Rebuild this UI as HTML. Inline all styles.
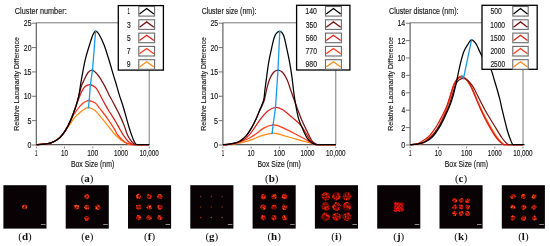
<!DOCTYPE html>
<html><head><meta charset="utf-8"><title>Lacunarity figure</title>
<style>html,body{margin:0;padding:0;background:#fff;width:550px;height:246px;overflow:hidden}svg{display:block}</style>
</head><body><svg width="550" height="246" viewBox="0 0 550 246"><path d="M36.30,22.80 H118.30 M149.20,70.10 V144.60" stroke="#777" stroke-width="1" fill="none"/><path d="M36.30,22.80 V144.60 H149.20" stroke="#555" stroke-width="1.1" fill="none"/><path d="M95.60,31.08 L92.50,70.11 L90.40,84.58 L89.20,100.56 L88.50,107.52" stroke="#1a9be6" stroke-width="1.3" fill="none"/><path d="M36.30,144.60 C37.47,144.54 40.97,144.46 43.30,144.21 C45.63,143.96 47.93,143.86 50.30,143.09 C52.67,142.32 55.43,141.03 57.50,139.58 C59.57,138.14 60.83,136.67 62.70,134.42 C64.57,132.17 66.80,128.81 68.70,126.09 C70.60,123.36 72.67,119.92 74.10,118.05 C75.53,116.18 76.22,115.90 77.30,114.88 C78.38,113.87 79.43,112.89 80.60,111.96 C81.77,111.02 82.98,110.02 84.30,109.28 C85.62,108.54 86.72,107.34 88.50,107.52 C90.28,107.71 92.83,108.69 95.00,110.40 C97.17,112.11 99.33,115.22 101.50,117.80 C103.67,120.39 105.83,123.20 108.00,125.89 C110.17,128.59 112.28,131.59 114.50,133.98 C116.72,136.37 119.00,138.53 121.30,140.22 C123.60,141.90 126.47,143.38 128.30,144.11 C130.13,144.84 128.82,144.52 132.30,144.60 C135.78,144.68 146.38,144.60 149.20,144.60" stroke="#ff8a14" stroke-width="1.25" fill="none" stroke-linejoin="round"/><path d="M36.30,144.60 C37.47,144.54 40.97,144.46 43.30,144.21 C45.63,143.96 47.93,143.86 50.30,143.09 C52.67,142.32 55.43,141.03 57.50,139.58 C59.57,138.14 60.97,136.67 62.70,134.42 C64.43,132.17 66.17,129.20 67.90,126.09 C69.63,122.97 71.70,118.23 73.10,115.71 C74.50,113.19 75.18,112.54 76.30,110.98 C77.42,109.42 78.63,107.69 79.80,106.35 C80.97,105.02 82.22,103.80 83.30,102.94 C84.38,102.09 85.32,101.64 86.30,101.24 C87.28,100.84 87.70,100.26 89.20,100.56 C90.70,100.86 93.67,101.87 95.30,103.04 C96.93,104.21 97.97,106.33 99.00,107.57 C100.03,108.82 100.00,108.53 101.50,110.50 C103.00,112.46 105.83,116.26 108.00,119.36 C110.17,122.46 112.87,126.50 114.50,129.11 C116.13,131.71 116.17,132.91 117.80,135.00 C119.43,137.10 122.22,140.12 124.30,141.68 C126.38,143.24 128.80,143.87 130.30,144.36 C131.80,144.84 130.15,144.56 133.30,144.60 C136.45,144.64 146.55,144.60 149.20,144.60" stroke="#ff3d1a" stroke-width="1.25" fill="none" stroke-linejoin="round"/><path d="M36.30,144.60 C37.47,144.54 40.97,144.46 43.30,144.21 C45.63,143.96 47.93,143.86 50.30,143.09 C52.67,142.32 55.43,141.03 57.50,139.58 C59.57,138.14 60.97,136.67 62.70,134.42 C64.43,132.17 66.27,129.20 67.90,126.09 C69.53,122.97 70.88,119.77 72.50,115.71 C74.12,111.65 76.35,105.11 77.60,101.73 C78.85,98.34 79.05,97.59 80.00,95.39 C80.95,93.20 82.17,90.24 83.30,88.57 C84.43,86.91 85.62,86.07 86.80,85.41 C87.98,84.74 88.98,84.26 90.40,84.58 C91.82,84.89 93.98,86.15 95.30,87.31 C96.62,88.46 97.30,89.82 98.30,91.50 C99.30,93.17 100.22,95.27 101.30,97.34 C102.38,99.41 103.55,101.69 104.80,103.92 C106.05,106.15 107.42,108.51 108.80,110.74 C110.18,112.97 111.77,115.17 113.10,117.32 C114.43,119.47 115.60,121.54 116.80,123.65 C118.00,125.76 119.13,127.95 120.30,129.98 C121.47,132.01 122.50,133.96 123.80,135.83 C125.10,137.70 126.72,139.81 128.10,141.19 C129.48,142.57 130.98,143.54 132.10,144.11 C133.22,144.68 131.95,144.52 134.80,144.60 C137.65,144.68 146.80,144.60 149.20,144.60" stroke="#d9201a" stroke-width="1.25" fill="none" stroke-linejoin="round"/><path d="M36.30,144.60 C37.47,144.54 40.97,144.46 43.30,144.21 C45.63,143.96 47.93,143.86 50.30,143.09 C52.67,142.32 55.43,141.03 57.50,139.58 C59.57,138.14 60.97,136.67 62.70,134.42 C64.43,132.17 66.27,129.20 67.90,126.09 C69.53,122.97 70.88,119.93 72.50,115.71 C74.12,111.49 76.17,105.52 77.60,100.75 C79.03,95.99 80.00,90.60 81.10,87.11 C82.20,83.62 83.03,82.24 84.20,79.80 C85.37,77.37 86.72,74.11 88.10,72.49 C89.48,70.88 90.87,69.69 92.50,70.11 C94.13,70.52 96.42,73.28 97.90,74.98 C99.38,76.68 100.25,78.43 101.40,80.29 C102.55,82.15 103.57,83.78 104.80,86.14 C106.03,88.49 107.47,91.82 108.80,94.42 C110.13,97.02 111.47,99.21 112.80,101.73 C114.13,104.24 115.63,107.25 116.80,109.52 C117.97,111.80 118.55,112.64 119.80,115.37 C121.05,118.10 123.02,122.62 124.30,125.89 C125.58,129.16 126.33,132.45 127.50,135.00 C128.67,137.55 130.17,139.67 131.30,141.19 C132.43,142.71 133.47,143.54 134.30,144.11 C135.13,144.68 133.82,144.52 136.30,144.60 C138.78,144.68 147.05,144.60 149.20,144.60" stroke="#7a1515" stroke-width="1.25" fill="none" stroke-linejoin="round"/><path d="M36.30,144.60 C37.47,144.54 40.97,144.46 43.30,144.21 C45.63,143.96 47.93,143.86 50.30,143.09 C52.67,142.32 55.43,141.03 57.50,139.58 C59.57,138.14 60.97,136.67 62.70,134.42 C64.43,132.17 66.27,129.20 67.90,126.09 C69.53,122.97 71.12,119.16 72.50,115.71 C73.88,112.26 75.13,108.83 76.20,105.38 C77.27,101.93 78.05,99.18 78.90,95.00 C79.75,90.82 80.25,86.15 81.30,80.29 C82.35,74.43 83.82,65.75 85.20,59.83 C86.58,53.90 88.33,48.87 89.60,44.72 C90.87,40.58 91.80,37.25 92.80,34.98 C93.80,32.71 94.60,31.24 95.60,31.08 C96.60,30.92 97.38,31.69 98.80,34.01 C100.22,36.32 102.40,40.63 104.10,44.97 C105.80,49.30 107.38,54.78 109.00,60.02 C110.62,65.26 112.50,72.04 113.80,76.39 C115.10,80.74 115.88,83.05 116.80,86.14 C117.72,89.22 118.33,91.80 119.30,94.91 C120.27,98.02 121.50,101.26 122.60,104.80 C123.70,108.34 124.82,112.36 125.90,116.15 C126.98,119.93 128.15,124.36 129.10,127.50 C130.05,130.64 130.82,132.80 131.60,135.00 C132.38,137.20 133.07,139.18 133.80,140.70 C134.53,142.22 135.25,143.46 136.00,144.11 C136.75,144.76 136.10,144.52 138.30,144.60 C140.50,144.68 147.38,144.60 149.20,144.60" stroke="#000000" stroke-width="1.25" fill="none" stroke-linejoin="round"/><circle cx="95.60" cy="31.08" r="0.95" fill="#1a9be6"/><circle cx="92.50" cy="70.11" r="0.95" fill="#1a9be6"/><circle cx="90.40" cy="84.58" r="0.95" fill="#1a9be6"/><circle cx="89.20" cy="100.56" r="0.95" fill="#1a9be6"/><circle cx="88.50" cy="107.52" r="0.95" fill="#1a9be6"/><path d="M32.00,145.00 H36.30" stroke="#666" stroke-width="0.9"/><text x="27.52" y="148.00" font-size="8.20" font-family="'Liberation Sans', 'DejaVu Sans', sans-serif" fill="#141414" textLength="3.96" lengthAdjust="spacingAndGlyphs" stroke="#141414" stroke-width="0.14">0</text><path d="M32.00,120.64 H36.30" stroke="#666" stroke-width="0.9"/><text x="27.51" y="123.64" font-size="8.20" font-family="'Liberation Sans', 'DejaVu Sans', sans-serif" fill="#141414" textLength="3.99" lengthAdjust="spacingAndGlyphs" stroke="#141414" stroke-width="0.14">5</text><path d="M32.00,96.28 H36.30" stroke="#666" stroke-width="0.9"/><text x="23.67" y="99.28" font-size="8.20" font-family="'Liberation Sans', 'DejaVu Sans', sans-serif" fill="#141414" textLength="7.81" lengthAdjust="spacingAndGlyphs" stroke="#141414" stroke-width="0.14">10</text><path d="M32.00,71.92 H36.30" stroke="#666" stroke-width="0.9"/><text x="23.66" y="74.92" font-size="8.20" font-family="'Liberation Sans', 'DejaVu Sans', sans-serif" fill="#141414" textLength="7.83" lengthAdjust="spacingAndGlyphs" stroke="#141414" stroke-width="0.14">15</text><path d="M32.00,47.56 H36.30" stroke="#666" stroke-width="0.9"/><text x="23.86" y="50.56" font-size="8.20" font-family="'Liberation Sans', 'DejaVu Sans', sans-serif" fill="#141414" textLength="7.61" lengthAdjust="spacingAndGlyphs" stroke="#141414" stroke-width="0.14">20</text><path d="M32.00,23.20 H36.30" stroke="#666" stroke-width="0.9"/><text x="23.86" y="26.20" font-size="8.20" font-family="'Liberation Sans', 'DejaVu Sans', sans-serif" fill="#141414" textLength="7.63" lengthAdjust="spacingAndGlyphs" stroke="#141414" stroke-width="0.14">25</text><path d="M36.30,146.60 V148.40" stroke="#777" stroke-width="0.9"/><text x="35.11" y="156.30" font-size="8.30" font-family="'Liberation Sans', 'DejaVu Sans', sans-serif" fill="#141414" textLength="2.45" lengthAdjust="spacingAndGlyphs" stroke="#141414" stroke-width="0.14">1</text><path d="M64.53,146.60 V148.40" stroke="#777" stroke-width="0.9"/><text x="60.99" y="156.30" font-size="8.30" font-family="'Liberation Sans', 'DejaVu Sans', sans-serif" fill="#141414" textLength="7.03" lengthAdjust="spacingAndGlyphs" stroke="#141414" stroke-width="0.14">10</text><path d="M92.75,146.60 V148.40" stroke="#777" stroke-width="0.9"/><text x="87.14" y="156.30" font-size="8.30" font-family="'Liberation Sans', 'DejaVu Sans', sans-serif" fill="#141414" textLength="11.17" lengthAdjust="spacingAndGlyphs" stroke="#141414" stroke-width="0.14">100</text><path d="M120.98,146.60 V148.40" stroke="#777" stroke-width="0.9"/><text x="114.00" y="156.30" font-size="8.30" font-family="'Liberation Sans', 'DejaVu Sans', sans-serif" fill="#141414" textLength="13.92" lengthAdjust="spacingAndGlyphs" stroke="#141414" stroke-width="0.14">1000</text><path d="M149.20,146.60 V148.40" stroke="#777" stroke-width="0.9"/><text x="139.52" y="156.30" font-size="8.30" font-family="'Liberation Sans', 'DejaVu Sans', sans-serif" fill="#141414" textLength="19.33" lengthAdjust="spacingAndGlyphs" stroke="#141414" stroke-width="0.14">10,000</text><text x="70.93" y="166.80" font-size="8.20" font-family="'Liberation Sans', 'DejaVu Sans', sans-serif" fill="#141414" textLength="43.30" lengthAdjust="spacingAndGlyphs" stroke="#141414" stroke-width="0.14">Box Size (nm)</text><text transform="translate(19.30,130.20) rotate(-90)" x="-0.58" y="0" font-size="7.20" font-family="'Liberation Sans', 'DejaVu Sans', sans-serif" fill="#141414" stroke="#141414" stroke-width="0.14" textLength="93.68" lengthAdjust="spacingAndGlyphs">Relative Lacunarity Difference</text><text x="14.83" y="13.60" font-size="8.20" font-family="'Liberation Sans', 'DejaVu Sans', sans-serif" fill="#141414" textLength="51.83" lengthAdjust="spacingAndGlyphs" stroke="#141414" stroke-width="0.14">Cluster number:</text><rect x="118.30" y="5.60" width="45.10" height="64.50" fill="#fff" stroke="#000" stroke-width="1.3"/><rect x="138.80" y="6.50" width="15.80" height="9.60" fill="#fff" stroke="#6a6a6a" stroke-width="1.1"/><path d="M139.50,13.90 L146.70,8.60 L153.90,13.90" stroke="#000000" stroke-width="1.3" fill="none"/><text x="127.51" y="14.20" font-size="8.30" font-family="'Liberation Sans', 'DejaVu Sans', sans-serif" fill="#141414" textLength="2.45" lengthAdjust="spacingAndGlyphs" stroke="#141414" stroke-width="0.14">1</text><rect x="138.80" y="19.80" width="15.80" height="9.60" fill="#fff" stroke="#6a6a6a" stroke-width="1.1"/><path d="M139.50,27.20 L146.70,21.90 L153.90,27.20" stroke="#7a1515" stroke-width="1.3" fill="none"/><text x="126.94" y="27.50" font-size="8.30" font-family="'Liberation Sans', 'DejaVu Sans', sans-serif" fill="#141414" textLength="3.75" lengthAdjust="spacingAndGlyphs" stroke="#141414" stroke-width="0.14">3</text><rect x="138.80" y="33.10" width="15.80" height="9.60" fill="#fff" stroke="#6a6a6a" stroke-width="1.1"/><path d="M139.50,40.50 L146.70,35.20 L153.90,40.50" stroke="#d9201a" stroke-width="1.3" fill="none"/><text x="126.93" y="40.80" font-size="8.30" font-family="'Liberation Sans', 'DejaVu Sans', sans-serif" fill="#141414" textLength="3.75" lengthAdjust="spacingAndGlyphs" stroke="#141414" stroke-width="0.14">5</text><rect x="138.80" y="46.40" width="15.80" height="9.60" fill="#fff" stroke="#6a6a6a" stroke-width="1.1"/><path d="M139.50,53.80 L146.70,48.50 L153.90,53.80" stroke="#ff3d1a" stroke-width="1.3" fill="none"/><text x="126.84" y="54.10" font-size="8.30" font-family="'Liberation Sans', 'DejaVu Sans', sans-serif" fill="#141414" textLength="3.91" lengthAdjust="spacingAndGlyphs" stroke="#141414" stroke-width="0.14">7</text><rect x="138.80" y="59.70" width="15.80" height="9.60" fill="#fff" stroke="#6a6a6a" stroke-width="1.1"/><path d="M139.50,67.10 L146.70,61.80 L153.90,67.10" stroke="#ff8a14" stroke-width="1.3" fill="none"/><text x="126.87" y="67.40" font-size="8.30" font-family="'Liberation Sans', 'DejaVu Sans', sans-serif" fill="#141414" textLength="3.85" lengthAdjust="spacingAndGlyphs" stroke="#141414" stroke-width="0.14">9</text><path d="M222.90,22.80 H296.60 M335.80,70.00 V144.60" stroke="#777" stroke-width="1" fill="none"/><path d="M222.90,22.80 V144.60 H335.80" stroke="#555" stroke-width="1.1" fill="none"/><path d="M279.80,31.33 L278.00,70.06 L275.50,107.33 L273.10,124.92 L272.10,133.30" stroke="#1a9be6" stroke-width="1.3" fill="none"/><path d="M222.90,144.60 C224.23,144.56 227.85,144.67 230.90,144.36 C233.95,144.04 237.60,143.54 241.20,142.70 C244.80,141.86 249.07,140.48 252.50,139.29 C255.93,138.10 258.53,136.59 261.80,135.59 C265.07,134.59 269.42,133.58 272.10,133.30 C274.78,133.01 275.97,133.50 277.90,133.88 C279.83,134.26 280.55,134.69 283.70,135.59 C286.85,136.49 292.42,138.06 296.80,139.29 C301.18,140.52 307.15,142.15 310.00,142.99 C312.85,143.84 312.58,144.09 313.90,144.36 C315.22,144.62 314.25,144.56 317.90,144.60 C321.55,144.64 332.82,144.60 335.80,144.60" stroke="#ff8a14" stroke-width="1.25" fill="none" stroke-linejoin="round"/><path d="M222.90,144.60 C223.90,144.56 226.47,144.67 228.90,144.36 C231.33,144.04 234.50,143.54 237.50,142.70 C240.50,141.86 243.78,140.79 246.90,139.29 C250.02,137.79 253.40,135.55 256.20,133.69 C259.00,131.82 260.88,129.55 263.70,128.08 C266.52,126.62 270.65,125.29 273.10,124.92 C275.55,124.54 276.63,125.31 278.40,125.84 C280.17,126.37 280.93,126.78 283.70,128.08 C286.47,129.39 291.40,131.82 295.00,133.69 C298.60,135.55 302.50,137.74 305.30,139.29 C308.10,140.84 310.20,142.15 311.80,142.99 C313.40,143.84 313.72,144.09 314.90,144.36 C316.08,144.62 315.42,144.56 318.90,144.60 C322.38,144.64 332.98,144.60 335.80,144.60" stroke="#ff3d1a" stroke-width="1.25" fill="none" stroke-linejoin="round"/><path d="M222.90,144.60 C223.73,144.56 226.07,144.56 227.90,144.36 C229.73,144.15 231.65,143.91 233.90,143.38 C236.15,142.85 238.93,142.49 241.40,141.19 C243.87,139.89 246.55,137.77 248.70,135.59 C250.85,133.40 252.27,130.90 254.30,128.08 C256.33,125.27 258.70,121.50 260.90,118.68 C263.10,115.86 265.07,113.07 267.50,111.18 C269.93,109.29 273.02,107.61 275.50,107.33 C277.98,107.05 280.10,108.25 282.40,109.52 C284.70,110.80 287.05,113.13 289.30,114.98 C291.55,116.82 293.87,118.71 295.90,120.58 C297.93,122.45 299.78,124.00 301.50,126.18 C303.22,128.37 304.63,131.19 306.20,133.69 C307.77,136.19 309.45,139.41 310.90,141.19 C312.35,142.97 313.57,143.79 314.90,144.36 C316.23,144.92 315.42,144.56 318.90,144.60 C322.38,144.64 332.98,144.60 335.80,144.60" stroke="#d9201a" stroke-width="1.25" fill="none" stroke-linejoin="round"/><path d="M222.90,144.60 C223.73,144.56 226.18,144.56 227.90,144.36 C229.62,144.15 231.23,143.91 233.20,143.38 C235.17,142.85 237.50,142.49 239.70,141.19 C241.90,139.89 244.45,137.77 246.40,135.59 C248.35,133.40 249.77,130.90 251.40,128.08 C253.03,125.27 254.77,121.79 256.20,118.68 C257.63,115.57 259.32,110.95 260.00,109.42 C260.68,107.90 259.58,111.09 260.30,109.52 C261.02,107.95 263.27,103.27 264.30,100.02 C265.33,96.77 265.67,93.37 266.50,90.03 C267.33,86.70 268.15,82.92 269.30,80.00 C270.45,77.07 271.95,74.15 273.40,72.49 C274.85,70.84 276.45,70.06 278.00,70.06 C279.55,70.06 281.17,70.84 282.70,72.49 C284.23,74.15 285.87,77.07 287.20,80.00 C288.53,82.92 289.53,86.70 290.70,90.03 C291.87,93.37 292.45,95.25 294.20,100.02 C295.95,104.80 298.87,113.07 301.20,118.68 C303.53,124.29 306.47,130.10 308.20,133.69 C309.93,137.28 310.57,138.66 311.60,140.22 C312.63,141.77 313.47,142.28 314.40,142.99 C315.33,143.71 316.28,144.23 317.20,144.50 C318.12,144.77 316.80,144.58 319.90,144.60 C323.00,144.62 333.15,144.60 335.80,144.60" stroke="#7a1515" stroke-width="1.25" fill="none" stroke-linejoin="round"/><path d="M222.90,144.60 C223.73,144.56 226.18,144.56 227.90,144.36 C229.62,144.15 231.23,143.91 233.20,143.38 C235.17,142.85 237.50,142.49 239.70,141.19 C241.90,139.89 244.45,137.77 246.40,135.59 C248.35,133.40 249.77,130.90 251.40,128.08 C253.03,125.27 254.77,121.79 256.20,118.68 C257.63,115.57 258.75,112.53 260.00,109.42 C261.25,106.31 262.88,103.26 263.70,100.02 C264.52,96.78 264.42,93.77 264.90,89.98 C265.38,86.20 266.00,81.73 266.60,77.32 C267.20,72.90 267.72,68.09 268.50,63.48 C269.28,58.88 270.23,54.31 271.30,49.69 C272.37,45.08 273.48,38.87 274.90,35.81 C276.32,32.75 278.33,31.33 279.80,31.33 C281.27,31.33 282.50,32.75 283.70,35.81 C284.90,38.87 285.98,45.08 287.00,49.69 C288.02,54.31 288.97,58.88 289.80,63.48 C290.63,68.09 291.38,72.90 292.00,77.32 C292.62,81.73 293.02,86.20 293.50,89.98 C293.98,93.77 294.05,95.24 294.90,100.02 C295.75,104.80 296.95,113.07 298.60,118.68 C300.25,124.29 303.12,130.10 304.80,133.69 C306.48,137.28 307.43,138.64 308.70,140.22 C309.97,141.79 311.28,142.42 312.40,143.14 C313.52,143.85 314.32,144.26 315.40,144.50 C316.48,144.75 315.50,144.58 318.90,144.60 C322.30,144.62 332.98,144.60 335.80,144.60" stroke="#000000" stroke-width="1.25" fill="none" stroke-linejoin="round"/><circle cx="279.80" cy="31.33" r="0.95" fill="#1a9be6"/><circle cx="278.00" cy="70.06" r="0.95" fill="#1a9be6"/><circle cx="275.50" cy="107.33" r="0.95" fill="#1a9be6"/><circle cx="273.10" cy="124.92" r="0.95" fill="#1a9be6"/><circle cx="272.10" cy="133.30" r="0.95" fill="#1a9be6"/><path d="M218.60,145.00 H222.90" stroke="#666" stroke-width="0.9"/><text x="214.12" y="148.00" font-size="8.20" font-family="'Liberation Sans', 'DejaVu Sans', sans-serif" fill="#141414" textLength="3.96" lengthAdjust="spacingAndGlyphs" stroke="#141414" stroke-width="0.14">0</text><path d="M218.60,120.64 H222.90" stroke="#666" stroke-width="0.9"/><text x="214.11" y="123.64" font-size="8.20" font-family="'Liberation Sans', 'DejaVu Sans', sans-serif" fill="#141414" textLength="3.99" lengthAdjust="spacingAndGlyphs" stroke="#141414" stroke-width="0.14">5</text><path d="M218.60,96.28 H222.90" stroke="#666" stroke-width="0.9"/><text x="210.27" y="99.28" font-size="8.20" font-family="'Liberation Sans', 'DejaVu Sans', sans-serif" fill="#141414" textLength="7.81" lengthAdjust="spacingAndGlyphs" stroke="#141414" stroke-width="0.14">10</text><path d="M218.60,71.92 H222.90" stroke="#666" stroke-width="0.9"/><text x="210.26" y="74.92" font-size="8.20" font-family="'Liberation Sans', 'DejaVu Sans', sans-serif" fill="#141414" textLength="7.83" lengthAdjust="spacingAndGlyphs" stroke="#141414" stroke-width="0.14">15</text><path d="M218.60,47.56 H222.90" stroke="#666" stroke-width="0.9"/><text x="210.46" y="50.56" font-size="8.20" font-family="'Liberation Sans', 'DejaVu Sans', sans-serif" fill="#141414" textLength="7.61" lengthAdjust="spacingAndGlyphs" stroke="#141414" stroke-width="0.14">20</text><path d="M218.60,23.20 H222.90" stroke="#666" stroke-width="0.9"/><text x="210.46" y="26.20" font-size="8.20" font-family="'Liberation Sans', 'DejaVu Sans', sans-serif" fill="#141414" textLength="7.63" lengthAdjust="spacingAndGlyphs" stroke="#141414" stroke-width="0.14">25</text><path d="M222.90,146.60 V148.40" stroke="#777" stroke-width="0.9"/><text x="221.71" y="156.30" font-size="8.30" font-family="'Liberation Sans', 'DejaVu Sans', sans-serif" fill="#141414" textLength="2.45" lengthAdjust="spacingAndGlyphs" stroke="#141414" stroke-width="0.14">1</text><path d="M251.12,146.60 V148.40" stroke="#777" stroke-width="0.9"/><text x="247.59" y="156.30" font-size="8.30" font-family="'Liberation Sans', 'DejaVu Sans', sans-serif" fill="#141414" textLength="7.03" lengthAdjust="spacingAndGlyphs" stroke="#141414" stroke-width="0.14">10</text><path d="M279.35,146.60 V148.40" stroke="#777" stroke-width="0.9"/><text x="273.74" y="156.30" font-size="8.30" font-family="'Liberation Sans', 'DejaVu Sans', sans-serif" fill="#141414" textLength="11.17" lengthAdjust="spacingAndGlyphs" stroke="#141414" stroke-width="0.14">100</text><path d="M307.58,146.60 V148.40" stroke="#777" stroke-width="0.9"/><text x="300.60" y="156.30" font-size="8.30" font-family="'Liberation Sans', 'DejaVu Sans', sans-serif" fill="#141414" textLength="13.92" lengthAdjust="spacingAndGlyphs" stroke="#141414" stroke-width="0.14">1000</text><path d="M335.80,146.60 V148.40" stroke="#777" stroke-width="0.9"/><text x="326.12" y="156.30" font-size="8.30" font-family="'Liberation Sans', 'DejaVu Sans', sans-serif" fill="#141414" textLength="19.33" lengthAdjust="spacingAndGlyphs" stroke="#141414" stroke-width="0.14">10,000</text><text x="257.53" y="166.80" font-size="8.20" font-family="'Liberation Sans', 'DejaVu Sans', sans-serif" fill="#141414" textLength="43.30" lengthAdjust="spacingAndGlyphs" stroke="#141414" stroke-width="0.14">Box Size (nm)</text><text transform="translate(205.90,130.20) rotate(-90)" x="-0.58" y="0" font-size="7.20" font-family="'Liberation Sans', 'DejaVu Sans', sans-serif" fill="#141414" stroke="#141414" stroke-width="0.14" textLength="93.68" lengthAdjust="spacingAndGlyphs">Relative Lacunarity Difference</text><text x="201.64" y="13.60" font-size="8.20" font-family="'Liberation Sans', 'DejaVu Sans', sans-serif" fill="#141414" textLength="54.79" lengthAdjust="spacingAndGlyphs" stroke="#141414" stroke-width="0.14">Cluster size (nm):</text><rect x="296.60" y="5.30" width="53.30" height="64.70" fill="#fff" stroke="#000" stroke-width="1.3"/><rect x="325.50" y="6.50" width="15.90" height="9.60" fill="#fff" stroke="#6a6a6a" stroke-width="1.1"/><path d="M326.20,13.90 L333.45,8.60 L340.70,13.90" stroke="#000000" stroke-width="1.3" fill="none"/><text x="305.37" y="14.20" font-size="8.30" font-family="'Liberation Sans', 'DejaVu Sans', sans-serif" fill="#141414" textLength="11.60" lengthAdjust="spacingAndGlyphs" stroke="#141414" stroke-width="0.14">140</text><rect x="325.50" y="19.80" width="15.90" height="9.60" fill="#fff" stroke="#6a6a6a" stroke-width="1.1"/><path d="M326.20,27.20 L333.45,21.90 L340.70,27.20" stroke="#7a1515" stroke-width="1.3" fill="none"/><text x="305.64" y="27.50" font-size="8.30" font-family="'Liberation Sans', 'DejaVu Sans', sans-serif" fill="#141414" textLength="11.33" lengthAdjust="spacingAndGlyphs" stroke="#141414" stroke-width="0.14">350</text><rect x="325.50" y="33.10" width="15.90" height="9.60" fill="#fff" stroke="#6a6a6a" stroke-width="1.1"/><path d="M326.20,40.50 L333.45,35.20 L340.70,40.50" stroke="#d9201a" stroke-width="1.3" fill="none"/><text x="305.63" y="40.80" font-size="8.30" font-family="'Liberation Sans', 'DejaVu Sans', sans-serif" fill="#141414" textLength="11.34" lengthAdjust="spacingAndGlyphs" stroke="#141414" stroke-width="0.14">560</text><rect x="325.50" y="46.40" width="15.90" height="9.60" fill="#fff" stroke="#6a6a6a" stroke-width="1.1"/><path d="M326.20,53.80 L333.45,48.50 L340.70,53.80" stroke="#ff3d1a" stroke-width="1.3" fill="none"/><text x="305.55" y="54.10" font-size="8.30" font-family="'Liberation Sans', 'DejaVu Sans', sans-serif" fill="#141414" textLength="11.42" lengthAdjust="spacingAndGlyphs" stroke="#141414" stroke-width="0.14">770</text><rect x="325.50" y="59.70" width="15.90" height="9.60" fill="#fff" stroke="#6a6a6a" stroke-width="1.1"/><path d="M326.20,67.10 L333.45,61.80 L340.70,67.10" stroke="#ff8a14" stroke-width="1.3" fill="none"/><text x="305.58" y="67.40" font-size="8.30" font-family="'Liberation Sans', 'DejaVu Sans', sans-serif" fill="#141414" textLength="11.39" lengthAdjust="spacingAndGlyphs" stroke="#141414" stroke-width="0.14">980</text><path d="M410.10,22.80 H482.00 M523.00,69.30 V144.60" stroke="#777" stroke-width="1" fill="none"/><path d="M410.10,22.80 V144.60 H523.00" stroke="#555" stroke-width="1.1" fill="none"/><path d="M471.50,39.77 L463.50,78.31 L462.20,76.91 L461.90,76.48 L461.70,76.13" stroke="#1a9be6" stroke-width="1.3" fill="none"/><path d="M410.10,144.60 C411.27,144.53 414.93,144.45 417.10,144.16 C419.27,143.88 421.47,143.56 423.10,142.86 C424.73,142.16 424.62,142.13 426.90,139.99 C429.18,137.84 433.92,134.15 436.80,129.98 C439.68,125.82 442.13,120.02 444.20,115.02 C446.27,110.02 447.63,104.90 449.20,99.97 C450.77,95.04 452.20,89.05 453.60,85.44 C455.00,81.83 456.25,79.86 457.60,78.31 C458.95,76.75 460.20,75.81 461.70,76.13 C463.20,76.45 465.20,78.67 466.60,80.22 C468.00,81.77 469.05,83.82 470.10,85.44 C471.15,87.06 470.98,85.88 472.90,89.96 C474.82,94.05 478.82,104.13 481.60,109.97 C484.38,115.82 486.93,120.36 489.60,125.02 C492.27,129.69 495.35,134.87 497.60,137.99 C499.85,141.11 501.68,142.63 503.10,143.73 C504.52,144.83 502.78,144.45 506.10,144.60 C509.42,144.75 520.18,144.60 523.00,144.60" stroke="#ff8a14" stroke-width="1.25" fill="none" stroke-linejoin="round"/><path d="M410.10,144.60 C411.27,144.53 414.93,144.45 417.10,144.16 C419.27,143.88 421.47,143.56 423.10,142.86 C424.73,142.16 424.62,142.13 426.90,139.99 C429.18,137.84 433.92,134.15 436.80,129.98 C439.68,125.82 442.13,120.02 444.20,115.02 C446.27,110.02 447.63,104.97 449.20,99.97 C450.77,94.97 452.20,88.59 453.60,85.00 C455.00,81.42 456.22,79.90 457.60,78.48 C458.98,77.06 460.40,76.26 461.90,76.48 C463.40,76.70 465.23,78.36 466.60,79.78 C467.97,81.21 469.08,83.31 470.10,85.00 C471.12,86.70 470.83,85.80 472.70,89.96 C474.57,94.13 478.57,104.13 481.30,109.97 C484.03,115.82 486.47,120.36 489.10,125.02 C491.73,129.69 494.85,134.87 497.10,137.99 C499.35,141.11 501.18,142.63 502.60,143.73 C504.02,144.83 502.20,144.45 505.60,144.60 C509.00,144.75 520.10,144.60 523.00,144.60" stroke="#ff3d1a" stroke-width="1.25" fill="none" stroke-linejoin="round"/><path d="M410.10,144.60 C411.10,144.53 414.22,144.64 416.10,144.16 C417.98,143.69 419.30,143.00 421.40,141.73 C423.50,140.45 426.17,139.12 428.70,136.51 C431.23,133.90 434.35,129.52 436.60,126.07 C438.85,122.62 440.47,119.25 442.20,115.80 C443.93,112.35 445.62,108.83 447.00,105.36 C448.38,101.90 449.35,98.40 450.50,95.01 C451.65,91.62 452.72,87.69 453.90,85.00 C455.08,82.32 456.22,80.26 457.60,78.92 C458.98,77.57 460.70,76.84 462.20,76.91 C463.70,76.99 465.28,78.07 466.60,79.35 C467.92,80.63 469.12,82.80 470.10,84.57 C471.08,86.34 470.70,85.73 472.50,89.96 C474.30,94.20 478.25,104.13 480.90,109.97 C483.55,115.82 485.82,120.36 488.40,125.02 C490.98,129.69 494.12,134.87 496.40,137.99 C498.68,141.11 500.65,142.63 502.10,143.73 C503.55,144.83 501.62,144.45 505.10,144.60 C508.58,144.75 520.02,144.60 523.00,144.60" stroke="#d9201a" stroke-width="1.25" fill="none" stroke-linejoin="round"/><path d="M410.10,144.60 C411.27,144.53 414.68,144.64 417.10,144.16 C419.52,143.69 422.15,143.00 424.60,141.73 C427.05,140.45 429.38,139.12 431.80,136.51 C434.22,133.90 436.98,129.52 439.10,126.07 C441.22,122.62 442.83,119.25 444.50,115.80 C446.17,112.35 447.80,108.83 449.10,105.36 C450.40,101.90 451.25,98.40 452.30,95.01 C453.35,91.62 454.30,87.50 455.40,85.00 C456.50,82.51 457.55,81.16 458.90,80.05 C460.25,78.93 461.97,78.20 463.50,78.31 C465.03,78.41 466.67,79.47 468.10,80.66 C469.53,81.84 470.98,83.89 472.10,85.44 C473.22,86.99 472.65,85.88 474.80,89.96 C476.95,94.05 481.80,104.13 485.00,109.97 C488.20,115.82 491.17,120.36 494.00,125.02 C496.83,129.69 499.82,134.87 502.00,137.99 C504.18,141.11 505.75,142.63 507.10,143.73 C508.45,144.83 507.45,144.45 510.10,144.60 C512.75,144.75 520.85,144.60 523.00,144.60" stroke="#7a1515" stroke-width="1.25" fill="none" stroke-linejoin="round"/><path d="M410.10,144.60 C411.30,144.53 414.72,144.64 417.30,144.16 C419.88,143.69 423.02,143.00 425.60,141.73 C428.18,140.45 430.38,139.12 432.80,136.51 C435.22,133.90 438.02,129.52 440.10,126.07 C442.18,122.62 443.67,119.25 445.30,115.80 C446.93,112.35 448.57,108.83 449.90,105.36 C451.23,101.90 452.27,98.63 453.30,95.01 C454.33,91.38 455.23,87.41 456.10,83.61 C456.97,79.81 457.70,75.90 458.50,72.22 C459.30,68.53 460.02,64.94 460.90,61.52 C461.78,58.09 462.68,54.47 463.80,51.68 C464.92,48.90 466.32,46.80 467.60,44.81 C468.88,42.82 470.12,39.95 471.50,39.77 C472.88,39.58 474.47,41.58 475.90,43.68 C477.33,45.78 478.57,49.34 480.10,52.38 C481.63,55.43 483.32,59.17 485.10,61.95 C486.88,64.73 489.27,66.08 490.80,69.08 C492.33,72.09 493.22,76.48 494.30,79.96 C495.38,83.44 496.35,86.63 497.30,89.96 C498.25,93.30 499.18,96.63 500.00,99.97 C500.82,103.30 501.00,104.97 502.20,109.97 C503.40,114.98 505.80,124.98 507.20,129.98 C508.60,134.99 509.72,137.63 510.60,139.99 C511.48,142.35 511.83,143.40 512.50,144.16 C513.17,144.93 512.60,144.53 514.60,144.60 C516.60,144.67 522.85,144.60 524.50,144.60" stroke="#000000" stroke-width="1.25" fill="none" stroke-linejoin="round"/><circle cx="471.50" cy="39.77" r="0.95" fill="#1a9be6"/><circle cx="463.50" cy="78.31" r="0.95" fill="#1a9be6"/><circle cx="462.20" cy="76.91" r="0.95" fill="#1a9be6"/><circle cx="461.90" cy="76.48" r="0.95" fill="#1a9be6"/><circle cx="461.70" cy="76.13" r="0.95" fill="#1a9be6"/><path d="M405.80,145.00 H410.10" stroke="#666" stroke-width="0.9"/><text x="401.32" y="148.00" font-size="8.20" font-family="'Liberation Sans', 'DejaVu Sans', sans-serif" fill="#141414" textLength="3.96" lengthAdjust="spacingAndGlyphs" stroke="#141414" stroke-width="0.14">0</text><path d="M405.80,127.60 H410.10" stroke="#666" stroke-width="0.9"/><text x="401.23" y="130.60" font-size="8.20" font-family="'Liberation Sans', 'DejaVu Sans', sans-serif" fill="#141414" textLength="4.15" lengthAdjust="spacingAndGlyphs" stroke="#141414" stroke-width="0.14">2</text><path d="M405.80,110.20 H410.10" stroke="#666" stroke-width="0.9"/><text x="401.44" y="113.20" font-size="8.20" font-family="'Liberation Sans', 'DejaVu Sans', sans-serif" fill="#141414" textLength="3.75" lengthAdjust="spacingAndGlyphs" stroke="#141414" stroke-width="0.14">4</text><path d="M405.80,92.80 H410.10" stroke="#666" stroke-width="0.9"/><text x="401.22" y="95.80" font-size="8.20" font-family="'Liberation Sans', 'DejaVu Sans', sans-serif" fill="#141414" textLength="4.10" lengthAdjust="spacingAndGlyphs" stroke="#141414" stroke-width="0.14">6</text><path d="M405.80,75.40 H410.10" stroke="#666" stroke-width="0.9"/><text x="401.29" y="78.40" font-size="8.20" font-family="'Liberation Sans', 'DejaVu Sans', sans-serif" fill="#141414" textLength="4.02" lengthAdjust="spacingAndGlyphs" stroke="#141414" stroke-width="0.14">8</text><path d="M405.80,58.00 H410.10" stroke="#666" stroke-width="0.9"/><text x="397.47" y="61.00" font-size="8.20" font-family="'Liberation Sans', 'DejaVu Sans', sans-serif" fill="#141414" textLength="7.81" lengthAdjust="spacingAndGlyphs" stroke="#141414" stroke-width="0.14">10</text><path d="M405.80,40.60 H410.10" stroke="#666" stroke-width="0.9"/><text x="397.46" y="43.60" font-size="8.20" font-family="'Liberation Sans', 'DejaVu Sans', sans-serif" fill="#141414" textLength="7.90" lengthAdjust="spacingAndGlyphs" stroke="#141414" stroke-width="0.14">12</text><path d="M405.80,23.20 H410.10" stroke="#666" stroke-width="0.9"/><text x="397.47" y="26.20" font-size="8.20" font-family="'Liberation Sans', 'DejaVu Sans', sans-serif" fill="#141414" textLength="7.73" lengthAdjust="spacingAndGlyphs" stroke="#141414" stroke-width="0.14">14</text><path d="M410.10,146.60 V148.40" stroke="#777" stroke-width="0.9"/><text x="408.91" y="156.30" font-size="8.30" font-family="'Liberation Sans', 'DejaVu Sans', sans-serif" fill="#141414" textLength="2.45" lengthAdjust="spacingAndGlyphs" stroke="#141414" stroke-width="0.14">1</text><path d="M438.33,146.60 V148.40" stroke="#777" stroke-width="0.9"/><text x="434.79" y="156.30" font-size="8.30" font-family="'Liberation Sans', 'DejaVu Sans', sans-serif" fill="#141414" textLength="7.03" lengthAdjust="spacingAndGlyphs" stroke="#141414" stroke-width="0.14">10</text><path d="M466.55,146.60 V148.40" stroke="#777" stroke-width="0.9"/><text x="460.94" y="156.30" font-size="8.30" font-family="'Liberation Sans', 'DejaVu Sans', sans-serif" fill="#141414" textLength="11.17" lengthAdjust="spacingAndGlyphs" stroke="#141414" stroke-width="0.14">100</text><path d="M494.78,146.60 V148.40" stroke="#777" stroke-width="0.9"/><text x="487.80" y="156.30" font-size="8.30" font-family="'Liberation Sans', 'DejaVu Sans', sans-serif" fill="#141414" textLength="13.92" lengthAdjust="spacingAndGlyphs" stroke="#141414" stroke-width="0.14">1000</text><path d="M523.00,146.60 V148.40" stroke="#777" stroke-width="0.9"/><text x="513.32" y="156.30" font-size="8.30" font-family="'Liberation Sans', 'DejaVu Sans', sans-serif" fill="#141414" textLength="19.33" lengthAdjust="spacingAndGlyphs" stroke="#141414" stroke-width="0.14">10,000</text><text x="444.73" y="166.80" font-size="8.20" font-family="'Liberation Sans', 'DejaVu Sans', sans-serif" fill="#141414" textLength="43.30" lengthAdjust="spacingAndGlyphs" stroke="#141414" stroke-width="0.14">Box Size (nm)</text><text transform="translate(393.10,130.20) rotate(-90)" x="-0.58" y="0" font-size="7.20" font-family="'Liberation Sans', 'DejaVu Sans', sans-serif" fill="#141414" stroke="#141414" stroke-width="0.14" textLength="93.68" lengthAdjust="spacingAndGlyphs">Relative Lacunarity Difference</text><text x="389.04" y="13.60" font-size="8.20" font-family="'Liberation Sans', 'DejaVu Sans', sans-serif" fill="#141414" textLength="69.51" lengthAdjust="spacingAndGlyphs" stroke="#141414" stroke-width="0.14">Cluster distance (nm):</text><rect x="482.00" y="5.30" width="55.20" height="64.00" fill="#fff" stroke="#000" stroke-width="1.3"/><rect x="512.80" y="6.50" width="15.40" height="9.60" fill="#fff" stroke="#6a6a6a" stroke-width="1.1"/><path d="M513.50,13.90 L520.50,8.60 L527.50,13.90" stroke="#000000" stroke-width="1.3" fill="none"/><text x="490.53" y="14.20" font-size="8.30" font-family="'Liberation Sans', 'DejaVu Sans', sans-serif" fill="#141414" textLength="11.34" lengthAdjust="spacingAndGlyphs" stroke="#141414" stroke-width="0.14">500</text><rect x="512.80" y="19.80" width="15.40" height="9.60" fill="#fff" stroke="#6a6a6a" stroke-width="1.1"/><path d="M513.50,27.20 L520.50,21.90 L527.50,27.20" stroke="#7a1515" stroke-width="1.3" fill="none"/><text x="490.30" y="27.50" font-size="8.30" font-family="'Liberation Sans', 'DejaVu Sans', sans-serif" fill="#141414" textLength="14.77" lengthAdjust="spacingAndGlyphs" stroke="#141414" stroke-width="0.14">1000</text><rect x="512.80" y="33.10" width="15.40" height="9.60" fill="#fff" stroke="#6a6a6a" stroke-width="1.1"/><path d="M513.50,40.50 L520.50,35.20 L527.50,40.50" stroke="#d9201a" stroke-width="1.3" fill="none"/><text x="490.30" y="40.80" font-size="8.30" font-family="'Liberation Sans', 'DejaVu Sans', sans-serif" fill="#141414" textLength="14.77" lengthAdjust="spacingAndGlyphs" stroke="#141414" stroke-width="0.14">1500</text><rect x="512.80" y="46.40" width="15.40" height="9.60" fill="#fff" stroke="#6a6a6a" stroke-width="1.1"/><path d="M513.50,53.80 L520.50,48.50 L527.50,53.80" stroke="#ff3d1a" stroke-width="1.3" fill="none"/><text x="490.47" y="54.10" font-size="8.30" font-family="'Liberation Sans', 'DejaVu Sans', sans-serif" fill="#141414" textLength="14.59" lengthAdjust="spacingAndGlyphs" stroke="#141414" stroke-width="0.14">2000</text><rect x="512.80" y="59.70" width="15.40" height="9.60" fill="#fff" stroke="#6a6a6a" stroke-width="1.1"/><path d="M513.50,67.10 L520.50,61.80 L527.50,67.10" stroke="#ff8a14" stroke-width="1.3" fill="none"/><text x="490.47" y="67.40" font-size="8.30" font-family="'Liberation Sans', 'DejaVu Sans', sans-serif" fill="#141414" textLength="14.59" lengthAdjust="spacingAndGlyphs" stroke="#141414" stroke-width="0.14">2500</text><text x="87.05" y="182.10" font-size="11" font-family="'Liberation Serif', 'DejaVu Serif', serif" fill="#111" text-anchor="middle">(<tspan font-weight="bold">a</tspan>)</text><text x="271.70" y="182.10" font-size="11" font-family="'Liberation Serif', 'DejaVu Serif', serif" fill="#111" text-anchor="middle">(<tspan font-weight="bold">b</tspan>)</text><text x="461.00" y="182.10" font-size="11" font-family="'Liberation Serif', 'DejaVu Serif', serif" fill="#111" text-anchor="middle">(<tspan font-weight="bold">c</tspan>)</text><rect x="3.40" y="185.20" width="43.10" height="43.40" fill="#080204"/><circle cx="24.80" cy="206.90" r="2.50" fill="#6a0e04"/><circle cx="24.41" cy="207.68" r="0.48" fill="#a01206"/><circle cx="26.23" cy="207.86" r="0.53" fill="#ff3a10"/><circle cx="23.20" cy="207.61" r="0.74" fill="#ff3a10"/><circle cx="26.49" cy="206.32" r="0.47" fill="#a01206"/><circle cx="23.11" cy="208.19" r="0.55" fill="#e82208"/><circle cx="23.16" cy="206.47" r="0.69" fill="#ff3a10"/><circle cx="23.18" cy="205.99" r="0.47" fill="#ff3a10"/><circle cx="23.64" cy="205.82" r="0.72" fill="#ff6a1a"/><circle cx="23.02" cy="205.84" r="0.69" fill="#e82208"/><circle cx="26.26" cy="207.72" r="0.61" fill="#a01206"/><circle cx="26.82" cy="206.65" r="0.50" fill="#ff6a1a"/><circle cx="23.16" cy="207.78" r="0.73" fill="#c81806"/><circle cx="23.69" cy="208.65" r="0.47" fill="#ff3a10"/><circle cx="26.26" cy="206.37" r="0.47" fill="#f0300c"/><circle cx="24.17" cy="208.49" r="0.61" fill="#f0300c"/><circle cx="23.46" cy="208.07" r="0.51" fill="#ff3a10"/><circle cx="22.78" cy="206.98" r="0.59" fill="#ff6a1a"/><circle cx="26.12" cy="207.63" r="0.76" fill="#ff6a1a"/><circle cx="25.91" cy="205.63" r="0.76" fill="#e82208"/><circle cx="25.29" cy="207.58" r="0.42" fill="#3a0602"/><circle cx="24.95" cy="208.29" r="0.53" fill="#3a0602"/><circle cx="24.79" cy="207.03" r="0.48" fill="#3a0602"/><circle cx="23.77" cy="208.00" r="0.64" fill="#3a0602"/><rect x="40.90" y="224.00" width="4.6" height="0.75" fill="#b8b8b8"/><text x="24.95" y="240.40" font-size="11" font-family="'Liberation Serif', 'DejaVu Serif', serif" fill="#111" text-anchor="middle">(<tspan font-weight="bold">d</tspan>)</text><rect x="65.70" y="185.20" width="43.10" height="43.40" fill="#080204"/><circle cx="86.90" cy="207.20" r="2.50" fill="#6a0e04"/><circle cx="86.31" cy="205.70" r="0.69" fill="#ff3a10"/><circle cx="84.88" cy="207.76" r="0.69" fill="#a01206"/><circle cx="85.39" cy="208.41" r="0.47" fill="#ff3a10"/><circle cx="88.79" cy="207.02" r="0.49" fill="#a01206"/><circle cx="87.71" cy="208.34" r="0.76" fill="#a01206"/><circle cx="85.62" cy="208.46" r="0.66" fill="#ff6a1a"/><circle cx="88.39" cy="208.65" r="0.61" fill="#ff6a1a"/><circle cx="86.58" cy="207.99" r="0.71" fill="#ff6a1a"/><circle cx="87.95" cy="205.26" r="0.63" fill="#e82208"/><circle cx="86.11" cy="205.20" r="0.55" fill="#f0300c"/><circle cx="88.01" cy="205.92" r="0.51" fill="#e82208"/><circle cx="85.36" cy="206.88" r="0.73" fill="#e82208"/><circle cx="87.60" cy="205.29" r="0.53" fill="#a01206"/><circle cx="84.98" cy="207.29" r="0.73" fill="#ff6a1a"/><circle cx="86.79" cy="209.07" r="0.61" fill="#f0300c"/><circle cx="88.46" cy="207.08" r="0.53" fill="#e82208"/><circle cx="86.08" cy="208.53" r="0.66" fill="#ff3a10"/><circle cx="85.10" cy="207.43" r="0.48" fill="#f0300c"/><circle cx="87.92" cy="208.16" r="0.52" fill="#e82208"/><circle cx="85.44" cy="207.84" r="0.38" fill="#3a0602"/><circle cx="88.50" cy="206.64" r="0.49" fill="#3a0602"/><circle cx="86.88" cy="206.62" r="0.40" fill="#3a0602"/><circle cx="87.23" cy="207.19" r="0.53" fill="#3a0602"/><circle cx="86.90" cy="196.40" r="2.50" fill="#6a0e04"/><circle cx="85.12" cy="196.79" r="0.66" fill="#ff6a1a"/><circle cx="86.17" cy="195.29" r="0.50" fill="#ff3a10"/><circle cx="87.52" cy="194.47" r="0.50" fill="#e82208"/><circle cx="87.65" cy="194.95" r="0.53" fill="#a01206"/><circle cx="86.14" cy="197.87" r="0.47" fill="#f0300c"/><circle cx="85.98" cy="197.61" r="0.77" fill="#ff6a1a"/><circle cx="87.60" cy="195.07" r="0.63" fill="#ff6a1a"/><circle cx="87.19" cy="194.67" r="0.50" fill="#e82208"/><circle cx="85.01" cy="196.72" r="0.56" fill="#a01206"/><circle cx="85.37" cy="196.10" r="0.76" fill="#ff3a10"/><circle cx="86.91" cy="197.58" r="0.63" fill="#a01206"/><circle cx="88.53" cy="196.69" r="0.79" fill="#a01206"/><circle cx="85.06" cy="196.26" r="0.62" fill="#e82208"/><circle cx="86.24" cy="194.40" r="0.54" fill="#a01206"/><circle cx="88.26" cy="195.31" r="0.59" fill="#c81806"/><circle cx="88.66" cy="197.26" r="0.72" fill="#e82208"/><circle cx="88.38" cy="195.81" r="0.50" fill="#ff6a1a"/><circle cx="87.24" cy="198.17" r="0.80" fill="#e82208"/><circle cx="87.68" cy="197.66" r="0.57" fill="#e82208"/><circle cx="86.52" cy="196.88" r="0.46" fill="#3a0602"/><circle cx="86.19" cy="197.55" r="0.56" fill="#3a0602"/><circle cx="85.82" cy="197.36" r="0.44" fill="#3a0602"/><circle cx="87.55" cy="196.24" r="0.63" fill="#3a0602"/><circle cx="86.90" cy="218.20" r="2.50" fill="#6a0e04"/><circle cx="87.12" cy="219.80" r="0.77" fill="#e82208"/><circle cx="86.62" cy="220.35" r="0.74" fill="#c81806"/><circle cx="85.53" cy="219.12" r="0.62" fill="#c81806"/><circle cx="87.36" cy="218.49" r="0.60" fill="#ff3a10"/><circle cx="86.71" cy="219.79" r="0.66" fill="#e82208"/><circle cx="88.43" cy="218.88" r="0.64" fill="#c81806"/><circle cx="86.56" cy="217.88" r="0.78" fill="#e82208"/><circle cx="86.83" cy="219.15" r="0.67" fill="#a01206"/><circle cx="86.97" cy="216.99" r="0.51" fill="#c81806"/><circle cx="87.36" cy="216.89" r="0.63" fill="#e82208"/><circle cx="84.96" cy="218.03" r="0.68" fill="#f0300c"/><circle cx="85.08" cy="218.26" r="0.69" fill="#e82208"/><circle cx="85.77" cy="219.91" r="0.67" fill="#ff6a1a"/><circle cx="89.12" cy="218.05" r="0.45" fill="#f0300c"/><circle cx="86.82" cy="216.75" r="0.74" fill="#a01206"/><circle cx="86.12" cy="216.77" r="0.61" fill="#e82208"/><circle cx="86.70" cy="219.85" r="0.79" fill="#c81806"/><circle cx="86.96" cy="219.89" r="0.45" fill="#ff6a1a"/><circle cx="87.93" cy="218.80" r="0.54" fill="#ff3a10"/><circle cx="88.42" cy="219.18" r="0.39" fill="#3a0602"/><circle cx="85.83" cy="217.55" r="0.44" fill="#3a0602"/><circle cx="86.50" cy="217.78" r="0.64" fill="#3a0602"/><circle cx="87.38" cy="217.57" r="0.62" fill="#3a0602"/><circle cx="76.30" cy="207.20" r="2.50" fill="#6a0e04"/><circle cx="76.67" cy="205.50" r="0.70" fill="#ff6a1a"/><circle cx="77.43" cy="208.75" r="0.47" fill="#f0300c"/><circle cx="77.69" cy="206.08" r="0.73" fill="#e82208"/><circle cx="77.95" cy="206.15" r="0.73" fill="#ff3a10"/><circle cx="77.09" cy="205.67" r="0.69" fill="#f0300c"/><circle cx="75.10" cy="205.69" r="0.79" fill="#ff6a1a"/><circle cx="77.16" cy="205.76" r="0.67" fill="#f0300c"/><circle cx="76.35" cy="208.64" r="0.78" fill="#a01206"/><circle cx="77.67" cy="208.09" r="0.62" fill="#ff3a10"/><circle cx="76.92" cy="206.30" r="0.53" fill="#f0300c"/><circle cx="78.07" cy="206.93" r="0.69" fill="#ff3a10"/><circle cx="75.18" cy="206.19" r="0.54" fill="#f0300c"/><circle cx="75.67" cy="205.52" r="0.62" fill="#f0300c"/><circle cx="77.92" cy="208.37" r="0.55" fill="#ff6a1a"/><circle cx="75.54" cy="207.36" r="0.52" fill="#ff3a10"/><circle cx="78.23" cy="206.38" r="0.79" fill="#ff6a1a"/><circle cx="77.70" cy="207.15" r="0.78" fill="#ff3a10"/><circle cx="75.56" cy="206.79" r="0.78" fill="#e82208"/><circle cx="75.13" cy="206.31" r="0.58" fill="#ff6a1a"/><circle cx="77.42" cy="206.36" r="0.36" fill="#3a0602"/><circle cx="77.70" cy="207.23" r="0.49" fill="#3a0602"/><circle cx="76.06" cy="207.91" r="0.45" fill="#3a0602"/><circle cx="75.56" cy="208.88" r="0.35" fill="#3a0602"/><circle cx="97.80" cy="207.20" r="2.50" fill="#6a0e04"/><circle cx="97.81" cy="205.01" r="0.70" fill="#f0300c"/><circle cx="97.24" cy="209.38" r="0.66" fill="#c81806"/><circle cx="99.55" cy="206.32" r="0.55" fill="#ff3a10"/><circle cx="98.41" cy="206.16" r="0.54" fill="#c81806"/><circle cx="96.64" cy="207.69" r="0.72" fill="#ff6a1a"/><circle cx="99.31" cy="205.85" r="0.77" fill="#a01206"/><circle cx="95.88" cy="206.59" r="0.61" fill="#e82208"/><circle cx="96.45" cy="205.48" r="0.49" fill="#ff6a1a"/><circle cx="96.06" cy="208.23" r="0.68" fill="#ff6a1a"/><circle cx="97.11" cy="206.17" r="0.59" fill="#e82208"/><circle cx="97.42" cy="206.72" r="0.73" fill="#a01206"/><circle cx="98.20" cy="209.30" r="0.61" fill="#e82208"/><circle cx="96.02" cy="206.65" r="0.56" fill="#c81806"/><circle cx="97.71" cy="208.90" r="0.71" fill="#ff6a1a"/><circle cx="96.61" cy="208.28" r="0.71" fill="#ff6a1a"/><circle cx="97.49" cy="208.99" r="0.67" fill="#e82208"/><circle cx="99.42" cy="208.27" r="0.60" fill="#c81806"/><circle cx="98.62" cy="206.06" r="0.70" fill="#ff6a1a"/><circle cx="99.95" cy="206.77" r="0.77" fill="#a01206"/><circle cx="99.01" cy="205.65" r="0.42" fill="#3a0602"/><circle cx="98.41" cy="207.70" r="0.51" fill="#3a0602"/><circle cx="97.00" cy="205.43" r="0.57" fill="#3a0602"/><circle cx="96.75" cy="205.80" r="0.49" fill="#3a0602"/><rect x="103.20" y="224.00" width="4.6" height="0.75" fill="#b8b8b8"/><text x="87.25" y="240.40" font-size="11" font-family="'Liberation Serif', 'DejaVu Serif', serif" fill="#111" text-anchor="middle">(<tspan font-weight="bold">e</tspan>)</text><rect x="128.00" y="185.20" width="43.10" height="43.40" fill="#080204"/><circle cx="138.50" cy="196.40" r="2.50" fill="#6a0e04"/><circle cx="138.08" cy="196.26" r="0.53" fill="#ff3a10"/><circle cx="137.53" cy="195.14" r="0.67" fill="#f0300c"/><circle cx="138.69" cy="194.21" r="0.52" fill="#c81806"/><circle cx="138.77" cy="198.02" r="0.61" fill="#c81806"/><circle cx="137.53" cy="195.15" r="0.54" fill="#ff6a1a"/><circle cx="137.99" cy="194.66" r="0.69" fill="#ff6a1a"/><circle cx="139.98" cy="197.23" r="0.62" fill="#f0300c"/><circle cx="137.73" cy="197.64" r="0.52" fill="#c81806"/><circle cx="138.35" cy="194.18" r="0.56" fill="#e82208"/><circle cx="138.63" cy="197.45" r="0.55" fill="#a01206"/><circle cx="136.76" cy="196.45" r="0.68" fill="#a01206"/><circle cx="139.85" cy="198.17" r="0.50" fill="#ff3a10"/><circle cx="138.00" cy="194.47" r="0.56" fill="#ff3a10"/><circle cx="140.04" cy="196.38" r="0.78" fill="#f0300c"/><circle cx="137.27" cy="196.65" r="0.74" fill="#c81806"/><circle cx="137.15" cy="196.91" r="0.60" fill="#ff3a10"/><circle cx="136.60" cy="195.63" r="0.56" fill="#ff6a1a"/><circle cx="140.07" cy="197.37" r="0.61" fill="#c81806"/><circle cx="137.36" cy="197.71" r="0.73" fill="#ff6a1a"/><circle cx="138.86" cy="196.49" r="0.37" fill="#3a0602"/><circle cx="139.39" cy="195.91" r="0.57" fill="#3a0602"/><circle cx="139.44" cy="195.71" r="0.43" fill="#3a0602"/><circle cx="140.02" cy="195.99" r="0.43" fill="#3a0602"/><circle cx="149.20" cy="196.40" r="2.50" fill="#6a0e04"/><circle cx="148.91" cy="195.05" r="0.71" fill="#f0300c"/><circle cx="149.74" cy="196.21" r="0.49" fill="#f0300c"/><circle cx="150.74" cy="195.97" r="0.60" fill="#ff6a1a"/><circle cx="150.67" cy="198.02" r="0.56" fill="#f0300c"/><circle cx="149.44" cy="194.76" r="0.58" fill="#a01206"/><circle cx="150.08" cy="196.88" r="0.54" fill="#ff3a10"/><circle cx="148.28" cy="195.14" r="0.51" fill="#ff6a1a"/><circle cx="150.28" cy="195.43" r="0.48" fill="#ff6a1a"/><circle cx="150.69" cy="196.29" r="0.61" fill="#f0300c"/><circle cx="149.36" cy="198.04" r="0.72" fill="#c81806"/><circle cx="148.65" cy="198.34" r="0.52" fill="#e82208"/><circle cx="150.05" cy="198.39" r="0.52" fill="#ff3a10"/><circle cx="147.42" cy="197.76" r="0.53" fill="#ff3a10"/><circle cx="148.18" cy="194.93" r="0.74" fill="#ff6a1a"/><circle cx="150.47" cy="195.64" r="0.52" fill="#a01206"/><circle cx="149.41" cy="196.98" r="0.51" fill="#a01206"/><circle cx="149.08" cy="198.38" r="0.49" fill="#a01206"/><circle cx="148.78" cy="194.78" r="0.47" fill="#c81806"/><circle cx="151.07" cy="196.86" r="0.74" fill="#c81806"/><circle cx="148.17" cy="197.06" r="0.54" fill="#3a0602"/><circle cx="149.51" cy="196.57" r="0.50" fill="#3a0602"/><circle cx="147.93" cy="196.53" r="0.59" fill="#3a0602"/><circle cx="148.80" cy="195.73" r="0.51" fill="#3a0602"/><circle cx="159.90" cy="196.40" r="2.50" fill="#6a0e04"/><circle cx="158.62" cy="194.56" r="0.68" fill="#ff6a1a"/><circle cx="161.10" cy="196.04" r="0.58" fill="#ff6a1a"/><circle cx="161.86" cy="196.62" r="0.68" fill="#ff6a1a"/><circle cx="159.60" cy="194.26" r="0.60" fill="#ff3a10"/><circle cx="158.64" cy="197.24" r="0.46" fill="#a01206"/><circle cx="161.07" cy="197.86" r="0.77" fill="#f0300c"/><circle cx="158.07" cy="196.35" r="0.77" fill="#ff3a10"/><circle cx="158.45" cy="197.70" r="0.73" fill="#c81806"/><circle cx="161.43" cy="197.96" r="0.62" fill="#ff3a10"/><circle cx="158.34" cy="195.15" r="0.69" fill="#e82208"/><circle cx="158.58" cy="194.79" r="0.67" fill="#e82208"/><circle cx="160.72" cy="194.88" r="0.63" fill="#ff6a1a"/><circle cx="159.35" cy="197.07" r="0.74" fill="#e82208"/><circle cx="161.53" cy="196.83" r="0.46" fill="#c81806"/><circle cx="161.19" cy="197.57" r="0.67" fill="#c81806"/><circle cx="158.88" cy="195.02" r="0.58" fill="#a01206"/><circle cx="159.58" cy="196.53" r="0.62" fill="#e82208"/><circle cx="158.23" cy="196.98" r="0.74" fill="#ff6a1a"/><circle cx="158.53" cy="197.39" r="0.73" fill="#a01206"/><circle cx="159.50" cy="196.37" r="0.54" fill="#3a0602"/><circle cx="161.39" cy="197.25" r="0.58" fill="#3a0602"/><circle cx="159.44" cy="196.37" r="0.50" fill="#3a0602"/><circle cx="158.50" cy="197.75" r="0.39" fill="#3a0602"/><circle cx="138.50" cy="207.10" r="2.50" fill="#6a0e04"/><circle cx="139.90" cy="205.34" r="0.74" fill="#e82208"/><circle cx="139.91" cy="208.63" r="0.73" fill="#f0300c"/><circle cx="138.90" cy="205.47" r="0.71" fill="#e82208"/><circle cx="137.71" cy="208.68" r="0.61" fill="#c81806"/><circle cx="136.90" cy="207.08" r="0.63" fill="#c81806"/><circle cx="137.16" cy="208.49" r="0.55" fill="#c81806"/><circle cx="139.23" cy="206.54" r="0.49" fill="#a01206"/><circle cx="140.49" cy="207.73" r="0.61" fill="#a01206"/><circle cx="136.53" cy="206.02" r="0.67" fill="#ff6a1a"/><circle cx="138.37" cy="205.41" r="0.50" fill="#c81806"/><circle cx="138.69" cy="205.08" r="0.47" fill="#a01206"/><circle cx="138.46" cy="208.90" r="0.66" fill="#f0300c"/><circle cx="140.03" cy="205.93" r="0.53" fill="#c81806"/><circle cx="137.40" cy="206.11" r="0.76" fill="#e82208"/><circle cx="137.08" cy="207.20" r="0.65" fill="#c81806"/><circle cx="139.98" cy="208.27" r="0.66" fill="#e82208"/><circle cx="137.57" cy="208.13" r="0.73" fill="#f0300c"/><circle cx="138.91" cy="207.66" r="0.75" fill="#c81806"/><circle cx="136.92" cy="208.22" r="0.65" fill="#c81806"/><circle cx="137.24" cy="206.25" r="0.53" fill="#3a0602"/><circle cx="137.10" cy="206.95" r="0.40" fill="#3a0602"/><circle cx="139.00" cy="207.10" r="0.36" fill="#3a0602"/><circle cx="138.81" cy="207.83" r="0.62" fill="#3a0602"/><circle cx="149.20" cy="207.10" r="2.50" fill="#6a0e04"/><circle cx="150.59" cy="208.18" r="0.52" fill="#ff6a1a"/><circle cx="149.75" cy="208.77" r="0.67" fill="#a01206"/><circle cx="149.85" cy="208.36" r="0.76" fill="#ff6a1a"/><circle cx="149.16" cy="206.92" r="0.71" fill="#ff6a1a"/><circle cx="151.17" cy="208.19" r="0.54" fill="#f0300c"/><circle cx="150.46" cy="207.41" r="0.69" fill="#c81806"/><circle cx="148.92" cy="205.97" r="0.60" fill="#a01206"/><circle cx="150.40" cy="206.89" r="0.76" fill="#ff3a10"/><circle cx="150.35" cy="206.02" r="0.71" fill="#e82208"/><circle cx="149.17" cy="205.81" r="0.56" fill="#e82208"/><circle cx="147.69" cy="208.53" r="0.79" fill="#a01206"/><circle cx="147.18" cy="207.49" r="0.75" fill="#ff6a1a"/><circle cx="150.25" cy="206.80" r="0.73" fill="#ff6a1a"/><circle cx="148.75" cy="206.66" r="0.50" fill="#ff3a10"/><circle cx="150.90" cy="208.54" r="0.70" fill="#ff3a10"/><circle cx="151.01" cy="207.58" r="0.69" fill="#f0300c"/><circle cx="151.19" cy="207.70" r="0.52" fill="#a01206"/><circle cx="149.65" cy="206.74" r="0.77" fill="#ff6a1a"/><circle cx="150.30" cy="207.98" r="0.75" fill="#f0300c"/><circle cx="150.68" cy="208.01" r="0.54" fill="#3a0602"/><circle cx="148.48" cy="207.20" r="0.59" fill="#3a0602"/><circle cx="148.54" cy="206.24" r="0.45" fill="#3a0602"/><circle cx="149.12" cy="208.28" r="0.63" fill="#3a0602"/><circle cx="159.90" cy="207.10" r="2.50" fill="#6a0e04"/><circle cx="161.77" cy="207.69" r="0.72" fill="#a01206"/><circle cx="157.82" cy="207.05" r="0.46" fill="#ff6a1a"/><circle cx="161.65" cy="207.45" r="0.47" fill="#a01206"/><circle cx="160.34" cy="209.15" r="0.51" fill="#ff3a10"/><circle cx="158.71" cy="206.92" r="0.47" fill="#c81806"/><circle cx="158.33" cy="207.19" r="0.51" fill="#ff6a1a"/><circle cx="158.06" cy="205.89" r="0.65" fill="#e82208"/><circle cx="159.68" cy="208.12" r="0.62" fill="#ff3a10"/><circle cx="161.98" cy="206.26" r="0.65" fill="#ff3a10"/><circle cx="158.71" cy="205.86" r="0.76" fill="#ff3a10"/><circle cx="158.45" cy="207.87" r="0.60" fill="#a01206"/><circle cx="158.51" cy="207.09" r="0.53" fill="#ff6a1a"/><circle cx="161.11" cy="208.34" r="0.66" fill="#ff3a10"/><circle cx="158.67" cy="208.82" r="0.68" fill="#f0300c"/><circle cx="159.22" cy="208.47" r="0.54" fill="#e82208"/><circle cx="160.97" cy="208.19" r="0.53" fill="#e82208"/><circle cx="159.69" cy="209.04" r="0.67" fill="#f0300c"/><circle cx="160.92" cy="208.62" r="0.51" fill="#c81806"/><circle cx="161.00" cy="206.79" r="0.80" fill="#e82208"/><circle cx="160.52" cy="206.95" r="0.47" fill="#3a0602"/><circle cx="161.67" cy="206.92" r="0.57" fill="#3a0602"/><circle cx="159.09" cy="207.45" r="0.54" fill="#3a0602"/><circle cx="160.61" cy="207.67" r="0.47" fill="#3a0602"/><circle cx="138.50" cy="217.70" r="2.50" fill="#6a0e04"/><circle cx="139.89" cy="218.00" r="0.69" fill="#a01206"/><circle cx="140.09" cy="217.51" r="0.71" fill="#ff3a10"/><circle cx="138.39" cy="215.83" r="0.71" fill="#ff6a1a"/><circle cx="139.54" cy="216.19" r="0.76" fill="#f0300c"/><circle cx="137.86" cy="215.72" r="0.67" fill="#ff6a1a"/><circle cx="137.45" cy="218.17" r="0.76" fill="#e82208"/><circle cx="138.88" cy="215.84" r="0.54" fill="#ff6a1a"/><circle cx="138.19" cy="217.73" r="0.63" fill="#f0300c"/><circle cx="139.37" cy="217.29" r="0.72" fill="#ff6a1a"/><circle cx="139.28" cy="216.31" r="0.53" fill="#f0300c"/><circle cx="138.93" cy="215.56" r="0.49" fill="#a01206"/><circle cx="137.16" cy="218.07" r="0.73" fill="#c81806"/><circle cx="137.07" cy="217.50" r="0.52" fill="#f0300c"/><circle cx="139.15" cy="219.18" r="0.71" fill="#a01206"/><circle cx="137.44" cy="219.06" r="0.45" fill="#ff6a1a"/><circle cx="140.04" cy="216.80" r="0.65" fill="#ff3a10"/><circle cx="138.81" cy="219.61" r="0.63" fill="#e82208"/><circle cx="140.02" cy="217.64" r="0.78" fill="#ff3a10"/><circle cx="139.18" cy="215.96" r="0.53" fill="#e82208"/><circle cx="137.54" cy="218.97" r="0.60" fill="#3a0602"/><circle cx="139.05" cy="216.45" r="0.44" fill="#3a0602"/><circle cx="137.82" cy="217.49" r="0.60" fill="#3a0602"/><circle cx="137.37" cy="219.16" r="0.43" fill="#3a0602"/><circle cx="149.20" cy="217.70" r="2.50" fill="#6a0e04"/><circle cx="148.10" cy="218.78" r="0.45" fill="#f0300c"/><circle cx="149.61" cy="216.42" r="0.56" fill="#ff6a1a"/><circle cx="147.58" cy="218.48" r="0.58" fill="#c81806"/><circle cx="149.53" cy="217.27" r="0.77" fill="#e82208"/><circle cx="147.90" cy="217.45" r="0.68" fill="#e82208"/><circle cx="150.60" cy="217.26" r="0.50" fill="#e82208"/><circle cx="149.79" cy="219.09" r="0.52" fill="#ff6a1a"/><circle cx="149.44" cy="216.81" r="0.66" fill="#ff3a10"/><circle cx="148.16" cy="215.85" r="0.74" fill="#e82208"/><circle cx="147.09" cy="217.77" r="0.68" fill="#ff3a10"/><circle cx="147.79" cy="217.19" r="0.62" fill="#ff3a10"/><circle cx="147.07" cy="217.91" r="0.54" fill="#e82208"/><circle cx="147.15" cy="217.18" r="0.61" fill="#a01206"/><circle cx="147.45" cy="217.73" r="0.80" fill="#f0300c"/><circle cx="150.80" cy="218.52" r="0.46" fill="#a01206"/><circle cx="151.05" cy="218.25" r="0.73" fill="#ff3a10"/><circle cx="147.64" cy="217.60" r="0.46" fill="#f0300c"/><circle cx="147.52" cy="218.69" r="0.57" fill="#a01206"/><circle cx="147.62" cy="217.14" r="0.54" fill="#ff3a10"/><circle cx="149.70" cy="216.74" r="0.60" fill="#3a0602"/><circle cx="148.03" cy="218.51" r="0.43" fill="#3a0602"/><circle cx="147.23" cy="217.62" r="0.55" fill="#3a0602"/><circle cx="149.50" cy="216.59" r="0.45" fill="#3a0602"/><circle cx="159.90" cy="217.70" r="2.50" fill="#6a0e04"/><circle cx="159.38" cy="219.34" r="0.72" fill="#ff3a10"/><circle cx="158.39" cy="218.81" r="0.59" fill="#ff3a10"/><circle cx="160.88" cy="217.74" r="0.66" fill="#f0300c"/><circle cx="161.38" cy="218.29" r="0.58" fill="#e82208"/><circle cx="158.59" cy="216.36" r="0.69" fill="#e82208"/><circle cx="161.64" cy="218.14" r="0.51" fill="#f0300c"/><circle cx="160.08" cy="218.09" r="0.77" fill="#f0300c"/><circle cx="161.54" cy="217.84" r="0.70" fill="#c81806"/><circle cx="160.65" cy="219.42" r="0.65" fill="#ff3a10"/><circle cx="158.27" cy="217.72" r="0.72" fill="#ff6a1a"/><circle cx="158.67" cy="217.07" r="0.59" fill="#a01206"/><circle cx="161.95" cy="217.61" r="0.64" fill="#ff3a10"/><circle cx="159.05" cy="216.61" r="0.45" fill="#f0300c"/><circle cx="158.82" cy="215.75" r="0.53" fill="#ff3a10"/><circle cx="160.11" cy="217.92" r="0.53" fill="#f0300c"/><circle cx="159.83" cy="215.67" r="0.69" fill="#e82208"/><circle cx="159.82" cy="217.05" r="0.70" fill="#ff6a1a"/><circle cx="158.87" cy="215.84" r="0.47" fill="#ff3a10"/><circle cx="160.17" cy="217.72" r="0.74" fill="#ff3a10"/><circle cx="159.04" cy="218.42" r="0.53" fill="#3a0602"/><circle cx="161.66" cy="217.22" r="0.53" fill="#3a0602"/><circle cx="159.11" cy="219.48" r="0.57" fill="#3a0602"/><circle cx="159.10" cy="217.85" r="0.64" fill="#3a0602"/><rect x="165.50" y="224.00" width="4.6" height="0.75" fill="#b8b8b8"/><text x="149.55" y="240.40" font-size="11" font-family="'Liberation Serif', 'DejaVu Serif', serif" fill="#111" text-anchor="middle">(<tspan font-weight="bold">f</tspan>)</text><rect x="190.30" y="185.20" width="43.10" height="43.40" fill="#080204"/><circle cx="200.60" cy="196.40" r="0.75" fill="#7a3020"/><circle cx="211.40" cy="196.40" r="0.75" fill="#6a3a30"/><circle cx="222.10" cy="196.40" r="0.75" fill="#6a3a3a"/><circle cx="200.60" cy="207.10" r="0.75" fill="#8a3010"/><circle cx="211.40" cy="207.10" r="0.75" fill="#8a2010"/><circle cx="222.10" cy="207.10" r="0.75" fill="#a02010"/><circle cx="200.60" cy="217.60" r="0.80" fill="#b02010"/><circle cx="211.40" cy="217.60" r="0.75" fill="#7a5a50"/><circle cx="222.10" cy="217.60" r="0.75" fill="#6a4a30"/><rect x="227.80" y="224.00" width="4.6" height="0.75" fill="#b8b8b8"/><text x="211.85" y="240.40" font-size="11" font-family="'Liberation Serif', 'DejaVu Serif', serif" fill="#111" text-anchor="middle">(<tspan font-weight="bold">g</tspan>)</text><rect x="252.60" y="185.20" width="43.10" height="43.40" fill="#080204"/><circle cx="263.30" cy="196.50" r="2.60" fill="#6a0e04"/><circle cx="264.90" cy="197.95" r="0.62" fill="#ff6a1a"/><circle cx="265.25" cy="195.80" r="0.55" fill="#ff3a10"/><circle cx="261.94" cy="195.19" r="0.66" fill="#a01206"/><circle cx="262.97" cy="194.34" r="0.65" fill="#e82208"/><circle cx="261.92" cy="197.85" r="0.76" fill="#ff6a1a"/><circle cx="262.92" cy="198.27" r="0.66" fill="#ff3a10"/><circle cx="263.09" cy="197.35" r="0.80" fill="#e82208"/><circle cx="262.98" cy="198.63" r="0.69" fill="#ff6a1a"/><circle cx="262.91" cy="197.06" r="0.73" fill="#e82208"/><circle cx="263.77" cy="194.57" r="0.56" fill="#ff3a10"/><circle cx="262.57" cy="195.01" r="0.71" fill="#ff6a1a"/><circle cx="262.63" cy="196.67" r="0.72" fill="#e82208"/><circle cx="261.54" cy="197.81" r="0.56" fill="#a01206"/><circle cx="261.95" cy="195.65" r="0.70" fill="#c81806"/><circle cx="262.06" cy="195.84" r="0.75" fill="#e82208"/><circle cx="264.77" cy="196.92" r="0.67" fill="#ff3a10"/><circle cx="264.36" cy="198.08" r="0.46" fill="#ff3a10"/><circle cx="263.91" cy="198.60" r="0.66" fill="#e82208"/><circle cx="263.13" cy="198.79" r="0.72" fill="#a01206"/><circle cx="264.87" cy="196.13" r="0.51" fill="#ff3a10"/><circle cx="263.68" cy="196.57" r="0.46" fill="#3a0602"/><circle cx="262.90" cy="195.10" r="0.60" fill="#3a0602"/><circle cx="264.83" cy="195.31" r="0.54" fill="#3a0602"/><circle cx="264.84" cy="195.68" r="0.38" fill="#3a0602"/><circle cx="273.90" cy="196.50" r="2.60" fill="#6a0e04"/><circle cx="272.95" cy="198.56" r="0.63" fill="#e82208"/><circle cx="273.01" cy="196.80" r="0.80" fill="#e82208"/><circle cx="274.97" cy="198.50" r="0.47" fill="#a01206"/><circle cx="275.67" cy="195.29" r="0.70" fill="#f0300c"/><circle cx="274.03" cy="194.79" r="0.45" fill="#e82208"/><circle cx="273.33" cy="195.35" r="0.72" fill="#ff3a10"/><circle cx="272.16" cy="196.82" r="0.58" fill="#ff6a1a"/><circle cx="273.96" cy="197.38" r="0.45" fill="#f0300c"/><circle cx="275.77" cy="195.36" r="0.48" fill="#a01206"/><circle cx="275.13" cy="195.14" r="0.48" fill="#ff6a1a"/><circle cx="274.85" cy="195.04" r="0.74" fill="#ff6a1a"/><circle cx="275.47" cy="197.89" r="0.51" fill="#ff6a1a"/><circle cx="273.06" cy="196.21" r="0.54" fill="#ff6a1a"/><circle cx="273.91" cy="196.87" r="0.55" fill="#e82208"/><circle cx="273.77" cy="198.36" r="0.50" fill="#a01206"/><circle cx="275.97" cy="197.27" r="0.52" fill="#ff6a1a"/><circle cx="274.31" cy="195.81" r="0.79" fill="#ff6a1a"/><circle cx="276.23" cy="196.37" r="0.48" fill="#c81806"/><circle cx="273.09" cy="196.98" r="0.79" fill="#e82208"/><circle cx="274.19" cy="196.46" r="0.57" fill="#e82208"/><circle cx="272.17" cy="197.15" r="0.63" fill="#3a0602"/><circle cx="273.62" cy="197.72" r="0.36" fill="#3a0602"/><circle cx="272.98" cy="197.09" r="0.40" fill="#3a0602"/><circle cx="274.73" cy="195.25" r="0.42" fill="#3a0602"/><circle cx="284.50" cy="196.50" r="2.60" fill="#6a0e04"/><circle cx="285.32" cy="198.12" r="0.76" fill="#f0300c"/><circle cx="282.51" cy="196.56" r="0.70" fill="#e82208"/><circle cx="282.68" cy="195.46" r="0.59" fill="#f0300c"/><circle cx="285.96" cy="195.65" r="0.67" fill="#ff6a1a"/><circle cx="285.76" cy="197.30" r="0.50" fill="#f0300c"/><circle cx="284.40" cy="197.50" r="0.58" fill="#e82208"/><circle cx="283.98" cy="194.80" r="0.57" fill="#ff6a1a"/><circle cx="286.12" cy="196.18" r="0.74" fill="#c81806"/><circle cx="284.90" cy="194.36" r="0.76" fill="#c81806"/><circle cx="285.82" cy="195.14" r="0.64" fill="#a01206"/><circle cx="285.82" cy="197.99" r="0.51" fill="#c81806"/><circle cx="284.50" cy="198.02" r="0.69" fill="#e82208"/><circle cx="284.35" cy="198.64" r="0.61" fill="#e82208"/><circle cx="284.28" cy="195.78" r="0.70" fill="#ff3a10"/><circle cx="284.27" cy="198.08" r="0.72" fill="#ff3a10"/><circle cx="285.92" cy="197.87" r="0.75" fill="#e82208"/><circle cx="283.38" cy="194.50" r="0.46" fill="#f0300c"/><circle cx="283.34" cy="197.48" r="0.63" fill="#ff6a1a"/><circle cx="286.26" cy="196.17" r="0.74" fill="#f0300c"/><circle cx="282.37" cy="197.41" r="0.77" fill="#ff6a1a"/><circle cx="284.78" cy="196.11" r="0.51" fill="#3a0602"/><circle cx="286.44" cy="195.97" r="0.42" fill="#3a0602"/><circle cx="283.04" cy="197.28" r="0.46" fill="#3a0602"/><circle cx="283.96" cy="196.39" r="0.48" fill="#3a0602"/><circle cx="263.30" cy="207.20" r="2.60" fill="#6a0e04"/><circle cx="260.99" cy="207.13" r="0.72" fill="#ff6a1a"/><circle cx="261.89" cy="205.64" r="0.76" fill="#ff3a10"/><circle cx="264.52" cy="205.82" r="0.67" fill="#f0300c"/><circle cx="261.13" cy="206.61" r="0.54" fill="#a01206"/><circle cx="264.83" cy="207.33" r="0.57" fill="#e82208"/><circle cx="264.61" cy="208.44" r="0.63" fill="#c81806"/><circle cx="264.85" cy="208.11" r="0.60" fill="#a01206"/><circle cx="264.45" cy="208.44" r="0.54" fill="#ff3a10"/><circle cx="263.18" cy="205.14" r="0.53" fill="#ff6a1a"/><circle cx="263.88" cy="209.04" r="0.66" fill="#ff6a1a"/><circle cx="263.97" cy="205.75" r="0.64" fill="#a01206"/><circle cx="261.47" cy="208.59" r="0.56" fill="#c81806"/><circle cx="262.05" cy="207.27" r="0.55" fill="#ff3a10"/><circle cx="263.63" cy="207.71" r="0.60" fill="#ff3a10"/><circle cx="261.19" cy="206.97" r="0.63" fill="#f0300c"/><circle cx="263.18" cy="205.45" r="0.69" fill="#a01206"/><circle cx="262.36" cy="206.41" r="0.48" fill="#f0300c"/><circle cx="265.07" cy="206.26" r="0.67" fill="#f0300c"/><circle cx="264.78" cy="208.73" r="0.66" fill="#ff6a1a"/><circle cx="261.54" cy="208.52" r="0.55" fill="#a01206"/><circle cx="262.30" cy="206.40" r="0.49" fill="#3a0602"/><circle cx="261.59" cy="207.66" r="0.44" fill="#3a0602"/><circle cx="262.10" cy="208.18" r="0.47" fill="#3a0602"/><circle cx="262.49" cy="208.86" r="0.60" fill="#3a0602"/><circle cx="273.90" cy="207.20" r="2.60" fill="#6a0e04"/><circle cx="272.19" cy="207.20" r="0.50" fill="#a01206"/><circle cx="273.09" cy="207.99" r="0.57" fill="#a01206"/><circle cx="274.86" cy="205.65" r="0.77" fill="#ff3a10"/><circle cx="275.07" cy="207.39" r="0.55" fill="#a01206"/><circle cx="274.15" cy="205.50" r="0.63" fill="#a01206"/><circle cx="273.69" cy="205.75" r="0.69" fill="#ff6a1a"/><circle cx="275.72" cy="206.58" r="0.48" fill="#c81806"/><circle cx="272.02" cy="207.19" r="0.50" fill="#e82208"/><circle cx="275.85" cy="206.76" r="0.80" fill="#c81806"/><circle cx="273.27" cy="205.56" r="0.58" fill="#ff3a10"/><circle cx="274.93" cy="205.21" r="0.69" fill="#a01206"/><circle cx="275.19" cy="206.11" r="0.63" fill="#a01206"/><circle cx="275.42" cy="205.99" r="0.49" fill="#a01206"/><circle cx="275.70" cy="207.13" r="0.73" fill="#c81806"/><circle cx="273.47" cy="205.51" r="0.59" fill="#ff3a10"/><circle cx="272.29" cy="206.23" r="0.64" fill="#c81806"/><circle cx="275.43" cy="205.60" r="0.50" fill="#e82208"/><circle cx="272.10" cy="208.32" r="0.49" fill="#ff3a10"/><circle cx="275.55" cy="208.05" r="0.60" fill="#ff3a10"/><circle cx="272.76" cy="205.63" r="0.50" fill="#e82208"/><circle cx="273.38" cy="207.88" r="0.43" fill="#3a0602"/><circle cx="275.50" cy="208.36" r="0.52" fill="#3a0602"/><circle cx="273.09" cy="208.33" r="0.47" fill="#3a0602"/><circle cx="275.75" cy="207.86" r="0.52" fill="#3a0602"/><circle cx="284.50" cy="207.20" r="2.60" fill="#6a0e04"/><circle cx="286.00" cy="206.81" r="0.54" fill="#ff3a10"/><circle cx="285.27" cy="208.41" r="0.75" fill="#ff6a1a"/><circle cx="283.90" cy="208.91" r="0.62" fill="#ff3a10"/><circle cx="284.56" cy="208.66" r="0.53" fill="#c81806"/><circle cx="282.72" cy="208.52" r="0.48" fill="#e82208"/><circle cx="283.86" cy="207.99" r="0.55" fill="#a01206"/><circle cx="283.62" cy="208.23" r="0.57" fill="#f0300c"/><circle cx="285.25" cy="207.53" r="0.57" fill="#e82208"/><circle cx="283.11" cy="208.39" r="0.55" fill="#ff3a10"/><circle cx="284.00" cy="207.98" r="0.48" fill="#c81806"/><circle cx="282.51" cy="206.62" r="0.61" fill="#e82208"/><circle cx="285.25" cy="208.37" r="0.58" fill="#a01206"/><circle cx="285.09" cy="209.40" r="0.53" fill="#ff6a1a"/><circle cx="283.47" cy="205.17" r="0.66" fill="#ff6a1a"/><circle cx="282.81" cy="206.16" r="0.52" fill="#ff3a10"/><circle cx="284.19" cy="206.56" r="0.71" fill="#ff6a1a"/><circle cx="285.92" cy="207.46" r="0.70" fill="#f0300c"/><circle cx="285.40" cy="209.02" r="0.49" fill="#a01206"/><circle cx="286.30" cy="206.12" r="0.52" fill="#f0300c"/><circle cx="283.72" cy="209.13" r="0.55" fill="#ff6a1a"/><circle cx="285.29" cy="206.02" r="0.54" fill="#3a0602"/><circle cx="283.17" cy="205.80" r="0.63" fill="#3a0602"/><circle cx="285.06" cy="208.33" r="0.59" fill="#3a0602"/><circle cx="283.79" cy="205.36" r="0.36" fill="#3a0602"/><circle cx="263.30" cy="217.70" r="2.60" fill="#6a0e04"/><circle cx="262.84" cy="216.18" r="0.59" fill="#f0300c"/><circle cx="264.92" cy="218.84" r="0.53" fill="#f0300c"/><circle cx="264.86" cy="218.10" r="0.56" fill="#ff6a1a"/><circle cx="263.17" cy="215.97" r="0.78" fill="#a01206"/><circle cx="264.24" cy="216.20" r="0.54" fill="#ff6a1a"/><circle cx="262.45" cy="216.14" r="0.49" fill="#f0300c"/><circle cx="263.19" cy="218.17" r="0.66" fill="#ff3a10"/><circle cx="265.00" cy="217.42" r="0.72" fill="#c81806"/><circle cx="263.30" cy="217.01" r="0.59" fill="#f0300c"/><circle cx="262.48" cy="216.97" r="0.57" fill="#ff6a1a"/><circle cx="262.02" cy="218.18" r="0.69" fill="#f0300c"/><circle cx="262.13" cy="216.51" r="0.52" fill="#f0300c"/><circle cx="261.18" cy="217.54" r="0.47" fill="#f0300c"/><circle cx="264.02" cy="216.29" r="0.72" fill="#e82208"/><circle cx="261.61" cy="217.22" r="0.59" fill="#e82208"/><circle cx="262.73" cy="217.04" r="0.62" fill="#ff6a1a"/><circle cx="263.39" cy="218.85" r="0.61" fill="#f0300c"/><circle cx="262.54" cy="218.73" r="0.50" fill="#a01206"/><circle cx="263.41" cy="219.51" r="0.78" fill="#f0300c"/><circle cx="262.23" cy="215.86" r="0.74" fill="#ff3a10"/><circle cx="263.22" cy="217.48" r="0.50" fill="#3a0602"/><circle cx="265.20" cy="218.23" r="0.44" fill="#3a0602"/><circle cx="264.19" cy="218.44" r="0.64" fill="#3a0602"/><circle cx="264.03" cy="218.88" r="0.52" fill="#3a0602"/><circle cx="273.90" cy="217.70" r="2.60" fill="#6a0e04"/><circle cx="273.44" cy="219.50" r="0.79" fill="#ff6a1a"/><circle cx="275.61" cy="218.70" r="0.65" fill="#ff3a10"/><circle cx="272.59" cy="216.01" r="0.56" fill="#c81806"/><circle cx="275.54" cy="216.79" r="0.78" fill="#f0300c"/><circle cx="273.24" cy="215.70" r="0.46" fill="#ff6a1a"/><circle cx="274.97" cy="216.00" r="0.75" fill="#f0300c"/><circle cx="274.92" cy="219.51" r="0.71" fill="#c81806"/><circle cx="272.71" cy="218.83" r="0.50" fill="#c81806"/><circle cx="274.70" cy="216.40" r="0.73" fill="#f0300c"/><circle cx="272.41" cy="218.74" r="0.71" fill="#c81806"/><circle cx="272.59" cy="216.72" r="0.50" fill="#f0300c"/><circle cx="275.70" cy="217.35" r="0.52" fill="#f0300c"/><circle cx="273.61" cy="218.00" r="0.74" fill="#a01206"/><circle cx="272.79" cy="218.26" r="0.63" fill="#ff6a1a"/><circle cx="275.68" cy="216.24" r="0.51" fill="#f0300c"/><circle cx="274.89" cy="219.37" r="0.57" fill="#e82208"/><circle cx="272.21" cy="218.04" r="0.60" fill="#a01206"/><circle cx="275.73" cy="216.52" r="0.79" fill="#a01206"/><circle cx="275.74" cy="218.73" r="0.57" fill="#f0300c"/><circle cx="273.38" cy="219.39" r="0.62" fill="#f0300c"/><circle cx="275.16" cy="219.17" r="0.51" fill="#3a0602"/><circle cx="272.62" cy="216.27" r="0.42" fill="#3a0602"/><circle cx="273.79" cy="215.97" r="0.39" fill="#3a0602"/><circle cx="272.54" cy="216.96" r="0.63" fill="#3a0602"/><circle cx="284.50" cy="217.70" r="2.60" fill="#6a0e04"/><circle cx="283.44" cy="218.98" r="0.53" fill="#e82208"/><circle cx="283.75" cy="217.47" r="0.54" fill="#ff3a10"/><circle cx="285.23" cy="219.47" r="0.53" fill="#ff6a1a"/><circle cx="284.78" cy="219.58" r="0.66" fill="#ff3a10"/><circle cx="285.65" cy="216.15" r="0.50" fill="#a01206"/><circle cx="282.62" cy="217.08" r="0.49" fill="#f0300c"/><circle cx="282.92" cy="217.55" r="0.64" fill="#e82208"/><circle cx="282.53" cy="216.88" r="0.47" fill="#e82208"/><circle cx="284.96" cy="217.84" r="0.78" fill="#ff6a1a"/><circle cx="283.81" cy="219.83" r="0.67" fill="#e82208"/><circle cx="282.43" cy="216.84" r="0.51" fill="#f0300c"/><circle cx="285.64" cy="215.94" r="0.45" fill="#c81806"/><circle cx="285.52" cy="218.70" r="0.78" fill="#f0300c"/><circle cx="282.75" cy="217.82" r="0.56" fill="#a01206"/><circle cx="286.21" cy="219.17" r="0.54" fill="#e82208"/><circle cx="284.38" cy="217.38" r="0.60" fill="#ff3a10"/><circle cx="282.94" cy="217.82" r="0.78" fill="#f0300c"/><circle cx="283.46" cy="215.83" r="0.54" fill="#f0300c"/><circle cx="284.60" cy="216.25" r="0.80" fill="#ff6a1a"/><circle cx="282.31" cy="217.68" r="0.46" fill="#e82208"/><circle cx="283.29" cy="216.55" r="0.53" fill="#3a0602"/><circle cx="285.63" cy="215.99" r="0.56" fill="#3a0602"/><circle cx="283.56" cy="218.02" r="0.64" fill="#3a0602"/><circle cx="283.26" cy="217.57" r="0.51" fill="#3a0602"/><rect x="290.10" y="224.00" width="4.6" height="0.75" fill="#b8b8b8"/><text x="274.15" y="240.40" font-size="11" font-family="'Liberation Serif', 'DejaVu Serif', serif" fill="#111" text-anchor="middle">(<tspan font-weight="bold">h</tspan>)</text><rect x="314.90" y="185.20" width="43.10" height="43.40" fill="#080204"/><circle cx="325.70" cy="196.20" r="4.30" fill="#4a0804"/><circle cx="325.17" cy="197.50" r="0.52" fill="#ff2a0a"/><circle cx="325.16" cy="192.46" r="0.56" fill="#ff2a0a"/><circle cx="323.01" cy="194.74" r="0.80" fill="#e81808"/><circle cx="323.70" cy="194.04" r="0.47" fill="#ff2a0a"/><circle cx="323.88" cy="198.49" r="0.50" fill="#d01a08"/><circle cx="328.53" cy="196.82" r="0.76" fill="#a00c04"/><circle cx="323.83" cy="194.13" r="0.73" fill="#c81006"/><circle cx="324.81" cy="194.26" r="0.71" fill="#ff4a10"/><circle cx="326.86" cy="194.67" r="0.70" fill="#ff2a0a"/><circle cx="329.28" cy="197.63" r="0.62" fill="#ff2a0a"/><circle cx="328.44" cy="194.05" r="0.50" fill="#c81006"/><circle cx="328.73" cy="196.34" r="0.65" fill="#ff2a0a"/><circle cx="328.82" cy="194.72" r="0.54" fill="#ff4a10"/><circle cx="322.14" cy="195.01" r="0.65" fill="#e81808"/><circle cx="323.06" cy="194.64" r="0.79" fill="#d01a08"/><circle cx="322.91" cy="197.55" r="0.76" fill="#ff2a0a"/><circle cx="327.99" cy="194.49" r="0.67" fill="#c81006"/><circle cx="324.95" cy="193.64" r="0.66" fill="#ff4a10"/><circle cx="324.67" cy="194.82" r="0.79" fill="#ff4a10"/><circle cx="326.70" cy="196.52" r="0.65" fill="#d01a08"/><circle cx="326.80" cy="197.47" r="0.76" fill="#d01a08"/><circle cx="324.08" cy="199.49" r="0.46" fill="#a00c04"/><circle cx="323.67" cy="197.57" r="0.59" fill="#e81808"/><circle cx="328.29" cy="197.78" r="0.80" fill="#a00c04"/><circle cx="325.53" cy="199.95" r="0.65" fill="#ff2a0a"/><circle cx="328.55" cy="197.25" r="0.57" fill="#e81808"/><circle cx="327.46" cy="196.41" r="0.74" fill="#ff2a0a"/><circle cx="326.69" cy="193.88" r="0.66" fill="#ff4a10"/><circle cx="327.89" cy="199.35" r="0.53" fill="#ff4a10"/><circle cx="325.54" cy="199.46" r="0.72" fill="#ff2a0a"/><circle cx="324.04" cy="193.86" r="0.65" fill="#ff2a0a"/><circle cx="323.35" cy="195.85" r="0.62" fill="#d01a08"/><circle cx="326.90" cy="193.11" r="0.59" fill="#e81808"/><circle cx="328.64" cy="194.97" r="0.52" fill="#c81006"/><circle cx="325.53" cy="199.21" r="0.77" fill="#d01a08"/><circle cx="327.81" cy="193.51" r="0.57" fill="#d01a08"/><circle cx="325.85" cy="199.52" r="0.57" fill="#a00c04"/><circle cx="323.80" cy="196.69" r="0.62" fill="#3a0602"/><circle cx="328.00" cy="198.05" r="0.37" fill="#3a0602"/><circle cx="324.37" cy="194.47" r="0.61" fill="#3a0602"/><circle cx="328.10" cy="197.15" r="0.47" fill="#3a0602"/><circle cx="328.62" cy="194.57" r="0.54" fill="#3a0602"/><circle cx="325.98" cy="197.90" r="0.43" fill="#3a0602"/><circle cx="324.19" cy="196.87" r="0.41" fill="#3a0602"/><circle cx="325.86" cy="193.45" r="0.44" fill="#3a0602"/><circle cx="327.30" cy="196.14" r="0.52" fill="#3a0602"/><circle cx="327.47" cy="198.86" r="0.61" fill="#3a0602"/><circle cx="336.50" cy="196.20" r="4.30" fill="#4a0804"/><circle cx="336.14" cy="199.54" r="0.55" fill="#ff2a0a"/><circle cx="339.35" cy="196.27" r="0.66" fill="#a00c04"/><circle cx="336.71" cy="197.06" r="0.75" fill="#d01a08"/><circle cx="334.32" cy="198.83" r="0.51" fill="#c81006"/><circle cx="339.03" cy="196.12" r="0.79" fill="#e81808"/><circle cx="337.92" cy="197.78" r="0.57" fill="#c81006"/><circle cx="333.25" cy="196.94" r="0.68" fill="#a00c04"/><circle cx="338.50" cy="194.36" r="0.73" fill="#d01a08"/><circle cx="337.91" cy="196.34" r="0.65" fill="#d01a08"/><circle cx="336.93" cy="196.53" r="0.56" fill="#e81808"/><circle cx="338.69" cy="198.27" r="0.51" fill="#d01a08"/><circle cx="333.52" cy="195.43" r="0.80" fill="#ff4a10"/><circle cx="334.85" cy="198.37" r="0.57" fill="#c81006"/><circle cx="337.99" cy="194.23" r="0.70" fill="#e81808"/><circle cx="336.21" cy="199.32" r="0.59" fill="#ff4a10"/><circle cx="338.82" cy="195.48" r="0.61" fill="#ff2a0a"/><circle cx="333.43" cy="195.23" r="0.76" fill="#d01a08"/><circle cx="336.21" cy="198.70" r="0.58" fill="#c81006"/><circle cx="334.54" cy="197.88" r="0.80" fill="#e81808"/><circle cx="336.69" cy="198.93" r="0.69" fill="#d01a08"/><circle cx="334.68" cy="197.97" r="0.75" fill="#e81808"/><circle cx="337.22" cy="195.73" r="0.56" fill="#d01a08"/><circle cx="333.47" cy="197.34" r="0.62" fill="#d01a08"/><circle cx="338.17" cy="194.00" r="0.80" fill="#c81006"/><circle cx="338.06" cy="193.13" r="0.57" fill="#e81808"/><circle cx="334.30" cy="197.94" r="0.69" fill="#ff2a0a"/><circle cx="339.61" cy="197.71" r="0.77" fill="#ff2a0a"/><circle cx="336.23" cy="199.74" r="0.57" fill="#ff4a10"/><circle cx="332.78" cy="196.75" r="0.64" fill="#ff4a10"/><circle cx="337.45" cy="199.44" r="0.50" fill="#d01a08"/><circle cx="333.50" cy="196.96" r="0.76" fill="#e81808"/><circle cx="335.48" cy="198.29" r="0.60" fill="#a00c04"/><circle cx="338.15" cy="198.59" r="0.73" fill="#ff4a10"/><circle cx="335.59" cy="198.85" r="0.61" fill="#e81808"/><circle cx="333.96" cy="197.04" r="0.72" fill="#c81006"/><circle cx="339.86" cy="196.32" r="0.67" fill="#ff4a10"/><circle cx="335.07" cy="198.45" r="0.65" fill="#e81808"/><circle cx="334.90" cy="195.17" r="0.51" fill="#3a0602"/><circle cx="338.01" cy="195.33" r="0.43" fill="#3a0602"/><circle cx="334.19" cy="197.15" r="0.50" fill="#3a0602"/><circle cx="337.55" cy="196.85" r="0.64" fill="#3a0602"/><circle cx="335.74" cy="199.14" r="0.63" fill="#3a0602"/><circle cx="336.07" cy="194.14" r="0.36" fill="#3a0602"/><circle cx="336.57" cy="192.81" r="0.48" fill="#3a0602"/><circle cx="335.14" cy="195.11" r="0.42" fill="#3a0602"/><circle cx="337.23" cy="195.20" r="0.54" fill="#3a0602"/><circle cx="339.64" cy="195.76" r="0.52" fill="#3a0602"/><circle cx="346.90" cy="196.20" r="4.30" fill="#4a0804"/><circle cx="348.51" cy="196.88" r="0.48" fill="#a00c04"/><circle cx="344.20" cy="198.76" r="0.71" fill="#e81808"/><circle cx="349.16" cy="198.02" r="0.70" fill="#a00c04"/><circle cx="344.61" cy="197.56" r="0.60" fill="#a00c04"/><circle cx="348.69" cy="198.24" r="0.52" fill="#ff4a10"/><circle cx="349.99" cy="197.00" r="0.72" fill="#a00c04"/><circle cx="349.55" cy="198.63" r="0.49" fill="#e81808"/><circle cx="348.99" cy="193.26" r="0.52" fill="#ff2a0a"/><circle cx="346.00" cy="196.30" r="0.60" fill="#ff4a10"/><circle cx="349.01" cy="198.75" r="0.56" fill="#c81006"/><circle cx="346.60" cy="196.17" r="0.55" fill="#ff2a0a"/><circle cx="348.95" cy="197.44" r="0.55" fill="#a00c04"/><circle cx="344.08" cy="196.01" r="0.75" fill="#a00c04"/><circle cx="348.42" cy="194.28" r="0.64" fill="#ff2a0a"/><circle cx="349.76" cy="194.91" r="0.50" fill="#ff2a0a"/><circle cx="348.04" cy="199.73" r="0.47" fill="#ff2a0a"/><circle cx="347.91" cy="196.25" r="0.74" fill="#e81808"/><circle cx="346.39" cy="199.60" r="0.73" fill="#ff4a10"/><circle cx="345.01" cy="194.62" r="0.52" fill="#c81006"/><circle cx="349.28" cy="197.10" r="0.47" fill="#e81808"/><circle cx="348.26" cy="193.03" r="0.71" fill="#c81006"/><circle cx="343.72" cy="196.24" r="0.55" fill="#c81006"/><circle cx="345.39" cy="195.87" r="0.70" fill="#ff4a10"/><circle cx="347.86" cy="196.91" r="0.78" fill="#a00c04"/><circle cx="347.48" cy="199.69" r="0.60" fill="#a00c04"/><circle cx="347.42" cy="196.96" r="0.46" fill="#a00c04"/><circle cx="346.39" cy="198.00" r="0.56" fill="#ff4a10"/><circle cx="346.29" cy="193.07" r="0.53" fill="#d01a08"/><circle cx="349.81" cy="195.83" r="0.67" fill="#c81006"/><circle cx="345.44" cy="194.06" r="0.51" fill="#ff2a0a"/><circle cx="346.33" cy="195.02" r="0.49" fill="#c81006"/><circle cx="350.65" cy="196.11" r="0.55" fill="#ff2a0a"/><circle cx="350.30" cy="196.58" r="0.77" fill="#c81006"/><circle cx="343.32" cy="196.54" r="0.64" fill="#e81808"/><circle cx="347.70" cy="198.73" r="0.72" fill="#c81006"/><circle cx="345.04" cy="195.19" r="0.49" fill="#e81808"/><circle cx="344.80" cy="199.32" r="0.47" fill="#ff2a0a"/><circle cx="345.49" cy="198.13" r="0.45" fill="#3a0602"/><circle cx="346.15" cy="197.06" r="0.60" fill="#3a0602"/><circle cx="347.96" cy="193.47" r="0.49" fill="#3a0602"/><circle cx="346.88" cy="195.04" r="0.40" fill="#3a0602"/><circle cx="346.39" cy="196.61" r="0.36" fill="#3a0602"/><circle cx="344.96" cy="195.14" r="0.56" fill="#3a0602"/><circle cx="344.19" cy="197.80" r="0.37" fill="#3a0602"/><circle cx="346.49" cy="193.28" r="0.46" fill="#3a0602"/><circle cx="346.36" cy="195.32" r="0.35" fill="#3a0602"/><circle cx="344.97" cy="193.72" r="0.44" fill="#3a0602"/><circle cx="325.70" cy="206.50" r="4.30" fill="#4a0804"/><circle cx="325.52" cy="209.09" r="0.54" fill="#ff4a10"/><circle cx="328.04" cy="208.64" r="0.63" fill="#ff2a0a"/><circle cx="327.66" cy="205.86" r="0.80" fill="#c81006"/><circle cx="325.33" cy="204.02" r="0.49" fill="#e81808"/><circle cx="322.27" cy="206.75" r="0.69" fill="#c81006"/><circle cx="327.07" cy="207.33" r="0.80" fill="#a00c04"/><circle cx="322.80" cy="208.80" r="0.48" fill="#ff4a10"/><circle cx="326.09" cy="208.37" r="0.63" fill="#e81808"/><circle cx="326.79" cy="204.24" r="0.53" fill="#d01a08"/><circle cx="327.30" cy="209.62" r="0.66" fill="#c81006"/><circle cx="328.67" cy="206.70" r="0.48" fill="#c81006"/><circle cx="327.83" cy="209.36" r="0.72" fill="#c81006"/><circle cx="326.93" cy="210.13" r="0.80" fill="#a00c04"/><circle cx="328.10" cy="207.08" r="0.66" fill="#e81808"/><circle cx="326.66" cy="209.40" r="0.73" fill="#e81808"/><circle cx="323.48" cy="203.40" r="0.73" fill="#a00c04"/><circle cx="324.01" cy="203.31" r="0.78" fill="#e81808"/><circle cx="325.59" cy="202.97" r="0.66" fill="#a00c04"/><circle cx="323.37" cy="208.53" r="0.63" fill="#d01a08"/><circle cx="328.44" cy="205.81" r="0.49" fill="#ff2a0a"/><circle cx="325.71" cy="203.25" r="0.65" fill="#a00c04"/><circle cx="322.37" cy="204.80" r="0.47" fill="#d01a08"/><circle cx="326.43" cy="203.13" r="0.78" fill="#a00c04"/><circle cx="324.75" cy="207.13" r="0.74" fill="#ff2a0a"/><circle cx="324.24" cy="204.09" r="0.56" fill="#ff4a10"/><circle cx="326.98" cy="206.63" r="0.60" fill="#ff4a10"/><circle cx="325.25" cy="207.91" r="0.48" fill="#a00c04"/><circle cx="327.10" cy="204.43" r="0.54" fill="#d01a08"/><circle cx="327.60" cy="204.92" r="0.53" fill="#c81006"/><circle cx="325.38" cy="205.78" r="0.51" fill="#ff2a0a"/><circle cx="324.26" cy="209.01" r="0.74" fill="#a00c04"/><circle cx="324.91" cy="208.54" r="0.73" fill="#ff4a10"/><circle cx="326.87" cy="209.43" r="0.45" fill="#c81006"/><circle cx="327.23" cy="207.66" r="0.68" fill="#d01a08"/><circle cx="324.96" cy="207.48" r="0.75" fill="#ff4a10"/><circle cx="324.98" cy="205.27" r="0.54" fill="#a00c04"/><circle cx="329.08" cy="208.25" r="0.58" fill="#d01a08"/><circle cx="324.98" cy="203.74" r="0.63" fill="#3a0602"/><circle cx="326.00" cy="205.72" r="0.55" fill="#3a0602"/><circle cx="322.84" cy="206.62" r="0.36" fill="#3a0602"/><circle cx="328.00" cy="204.21" r="0.39" fill="#3a0602"/><circle cx="324.32" cy="207.84" r="0.50" fill="#3a0602"/><circle cx="327.24" cy="208.69" r="0.49" fill="#3a0602"/><circle cx="327.96" cy="205.74" r="0.35" fill="#3a0602"/><circle cx="327.35" cy="205.80" r="0.41" fill="#3a0602"/><circle cx="327.83" cy="205.29" r="0.65" fill="#3a0602"/><circle cx="326.92" cy="208.84" r="0.64" fill="#3a0602"/><circle cx="336.50" cy="206.50" r="4.30" fill="#4a0804"/><circle cx="335.17" cy="205.14" r="0.46" fill="#ff4a10"/><circle cx="339.59" cy="206.07" r="0.69" fill="#a00c04"/><circle cx="332.78" cy="206.66" r="0.56" fill="#ff4a10"/><circle cx="335.65" cy="206.52" r="0.76" fill="#c81006"/><circle cx="333.04" cy="206.15" r="0.51" fill="#ff2a0a"/><circle cx="338.98" cy="204.87" r="0.72" fill="#ff2a0a"/><circle cx="340.18" cy="205.61" r="0.52" fill="#ff2a0a"/><circle cx="338.71" cy="205.43" r="0.58" fill="#ff2a0a"/><circle cx="334.49" cy="208.26" r="0.77" fill="#a00c04"/><circle cx="332.79" cy="206.47" r="0.47" fill="#ff2a0a"/><circle cx="336.62" cy="203.85" r="0.68" fill="#e81808"/><circle cx="336.13" cy="208.80" r="0.64" fill="#ff2a0a"/><circle cx="337.92" cy="204.58" r="0.64" fill="#d01a08"/><circle cx="334.40" cy="205.57" r="0.54" fill="#c81006"/><circle cx="338.97" cy="204.35" r="0.74" fill="#d01a08"/><circle cx="338.14" cy="207.88" r="0.79" fill="#d01a08"/><circle cx="336.33" cy="202.87" r="0.73" fill="#ff2a0a"/><circle cx="333.53" cy="208.66" r="0.70" fill="#c81006"/><circle cx="333.76" cy="205.95" r="0.77" fill="#c81006"/><circle cx="337.24" cy="209.61" r="0.47" fill="#e81808"/><circle cx="338.39" cy="203.96" r="0.59" fill="#ff4a10"/><circle cx="336.04" cy="203.10" r="0.75" fill="#c81006"/><circle cx="338.35" cy="209.08" r="0.63" fill="#ff2a0a"/><circle cx="339.18" cy="204.52" r="0.68" fill="#ff2a0a"/><circle cx="338.70" cy="208.89" r="0.66" fill="#ff2a0a"/><circle cx="335.70" cy="203.20" r="0.63" fill="#ff4a10"/><circle cx="337.28" cy="209.79" r="0.79" fill="#e81808"/><circle cx="334.19" cy="209.30" r="0.56" fill="#e81808"/><circle cx="333.49" cy="207.32" r="0.79" fill="#ff4a10"/><circle cx="333.10" cy="205.28" r="0.49" fill="#c81006"/><circle cx="335.47" cy="210.10" r="0.64" fill="#c81006"/><circle cx="337.23" cy="210.05" r="0.73" fill="#ff4a10"/><circle cx="335.68" cy="203.01" r="0.54" fill="#ff2a0a"/><circle cx="339.33" cy="207.69" r="0.65" fill="#a00c04"/><circle cx="333.90" cy="208.64" r="0.76" fill="#e81808"/><circle cx="337.79" cy="202.87" r="0.47" fill="#a00c04"/><circle cx="334.24" cy="205.34" r="0.76" fill="#ff4a10"/><circle cx="334.57" cy="207.07" r="0.41" fill="#3a0602"/><circle cx="335.00" cy="207.55" r="0.41" fill="#3a0602"/><circle cx="336.28" cy="204.04" r="0.48" fill="#3a0602"/><circle cx="337.43" cy="209.23" r="0.41" fill="#3a0602"/><circle cx="336.25" cy="209.06" r="0.56" fill="#3a0602"/><circle cx="339.43" cy="206.00" r="0.63" fill="#3a0602"/><circle cx="339.06" cy="205.09" r="0.57" fill="#3a0602"/><circle cx="337.94" cy="207.10" r="0.35" fill="#3a0602"/><circle cx="338.41" cy="204.29" r="0.54" fill="#3a0602"/><circle cx="336.32" cy="208.54" r="0.40" fill="#3a0602"/><circle cx="346.90" cy="206.50" r="4.30" fill="#4a0804"/><circle cx="345.26" cy="204.70" r="0.51" fill="#ff2a0a"/><circle cx="346.32" cy="206.82" r="0.72" fill="#ff2a0a"/><circle cx="348.09" cy="207.44" r="0.61" fill="#e81808"/><circle cx="349.96" cy="204.60" r="0.49" fill="#e81808"/><circle cx="344.05" cy="205.99" r="0.68" fill="#c81006"/><circle cx="345.97" cy="202.85" r="0.60" fill="#d01a08"/><circle cx="346.66" cy="204.97" r="0.60" fill="#c81006"/><circle cx="348.68" cy="206.64" r="0.58" fill="#e81808"/><circle cx="348.27" cy="203.24" r="0.52" fill="#ff4a10"/><circle cx="343.67" cy="205.80" r="0.76" fill="#a00c04"/><circle cx="347.22" cy="203.85" r="0.57" fill="#e81808"/><circle cx="349.86" cy="208.60" r="0.60" fill="#ff4a10"/><circle cx="344.25" cy="204.92" r="0.60" fill="#e81808"/><circle cx="343.93" cy="205.10" r="0.51" fill="#d01a08"/><circle cx="345.34" cy="203.54" r="0.69" fill="#a00c04"/><circle cx="344.59" cy="204.69" r="0.69" fill="#c81006"/><circle cx="349.81" cy="206.59" r="0.53" fill="#d01a08"/><circle cx="346.70" cy="202.67" r="0.73" fill="#e81808"/><circle cx="344.50" cy="207.01" r="0.79" fill="#d01a08"/><circle cx="349.68" cy="207.29" r="0.59" fill="#e81808"/><circle cx="347.20" cy="206.93" r="0.49" fill="#d01a08"/><circle cx="348.10" cy="207.34" r="0.67" fill="#ff2a0a"/><circle cx="349.60" cy="208.62" r="0.77" fill="#e81808"/><circle cx="347.50" cy="206.79" r="0.48" fill="#ff4a10"/><circle cx="344.72" cy="204.46" r="0.48" fill="#e81808"/><circle cx="345.12" cy="203.63" r="0.65" fill="#c81006"/><circle cx="350.38" cy="207.03" r="0.61" fill="#e81808"/><circle cx="346.04" cy="203.30" r="0.79" fill="#ff4a10"/><circle cx="349.38" cy="206.13" r="0.71" fill="#e81808"/><circle cx="349.27" cy="208.00" r="0.62" fill="#ff4a10"/><circle cx="349.36" cy="206.17" r="0.49" fill="#d01a08"/><circle cx="347.32" cy="202.68" r="0.77" fill="#ff4a10"/><circle cx="344.70" cy="203.52" r="0.73" fill="#e81808"/><circle cx="348.67" cy="203.61" r="0.75" fill="#a00c04"/><circle cx="347.19" cy="205.64" r="0.55" fill="#ff2a0a"/><circle cx="346.12" cy="203.72" r="0.56" fill="#e81808"/><circle cx="347.72" cy="207.83" r="0.68" fill="#a00c04"/><circle cx="347.14" cy="203.36" r="0.65" fill="#3a0602"/><circle cx="346.93" cy="204.70" r="0.42" fill="#3a0602"/><circle cx="346.48" cy="206.76" r="0.42" fill="#3a0602"/><circle cx="349.39" cy="204.34" r="0.45" fill="#3a0602"/><circle cx="347.29" cy="203.50" r="0.62" fill="#3a0602"/><circle cx="347.59" cy="204.09" r="0.38" fill="#3a0602"/><circle cx="347.78" cy="204.79" r="0.54" fill="#3a0602"/><circle cx="345.21" cy="208.37" r="0.64" fill="#3a0602"/><circle cx="348.23" cy="208.63" r="0.54" fill="#3a0602"/><circle cx="343.66" cy="205.70" r="0.47" fill="#3a0602"/><circle cx="325.70" cy="216.90" r="4.30" fill="#4a0804"/><circle cx="328.45" cy="215.24" r="0.48" fill="#c81006"/><circle cx="326.37" cy="220.20" r="0.70" fill="#a00c04"/><circle cx="325.06" cy="213.95" r="0.69" fill="#d01a08"/><circle cx="328.43" cy="215.98" r="0.79" fill="#e81808"/><circle cx="324.32" cy="213.34" r="0.68" fill="#ff4a10"/><circle cx="327.55" cy="219.20" r="0.48" fill="#d01a08"/><circle cx="328.05" cy="217.95" r="0.49" fill="#a00c04"/><circle cx="324.05" cy="214.68" r="0.77" fill="#a00c04"/><circle cx="327.00" cy="219.58" r="0.69" fill="#a00c04"/><circle cx="329.32" cy="216.66" r="0.61" fill="#ff2a0a"/><circle cx="326.04" cy="216.31" r="0.53" fill="#c81006"/><circle cx="326.48" cy="214.65" r="0.52" fill="#e81808"/><circle cx="327.42" cy="219.53" r="0.68" fill="#c81006"/><circle cx="328.28" cy="217.66" r="0.47" fill="#ff2a0a"/><circle cx="324.28" cy="214.89" r="0.46" fill="#c81006"/><circle cx="327.82" cy="216.00" r="0.51" fill="#ff2a0a"/><circle cx="326.45" cy="213.84" r="0.49" fill="#c81006"/><circle cx="327.03" cy="216.05" r="0.78" fill="#e81808"/><circle cx="326.18" cy="219.80" r="0.58" fill="#d01a08"/><circle cx="327.67" cy="215.33" r="0.58" fill="#ff2a0a"/><circle cx="325.94" cy="219.43" r="0.61" fill="#d01a08"/><circle cx="321.95" cy="217.08" r="0.77" fill="#a00c04"/><circle cx="322.99" cy="217.97" r="0.61" fill="#ff2a0a"/><circle cx="322.42" cy="215.72" r="0.65" fill="#a00c04"/><circle cx="328.60" cy="219.30" r="0.53" fill="#c81006"/><circle cx="322.62" cy="216.70" r="0.61" fill="#a00c04"/><circle cx="326.01" cy="215.53" r="0.67" fill="#e81808"/><circle cx="326.40" cy="219.35" r="0.79" fill="#a00c04"/><circle cx="325.57" cy="219.66" r="0.73" fill="#e81808"/><circle cx="323.63" cy="214.28" r="0.72" fill="#d01a08"/><circle cx="322.87" cy="214.71" r="0.78" fill="#d01a08"/><circle cx="329.16" cy="217.83" r="0.68" fill="#d01a08"/><circle cx="326.13" cy="219.86" r="0.48" fill="#c81006"/><circle cx="326.92" cy="215.23" r="0.74" fill="#ff2a0a"/><circle cx="325.68" cy="213.94" r="0.59" fill="#d01a08"/><circle cx="326.95" cy="219.02" r="0.58" fill="#d01a08"/><circle cx="321.85" cy="217.09" r="0.53" fill="#a00c04"/><circle cx="326.72" cy="220.18" r="0.49" fill="#3a0602"/><circle cx="326.20" cy="220.24" r="0.45" fill="#3a0602"/><circle cx="324.02" cy="218.01" r="0.55" fill="#3a0602"/><circle cx="327.78" cy="217.20" r="0.40" fill="#3a0602"/><circle cx="325.72" cy="216.86" r="0.53" fill="#3a0602"/><circle cx="325.59" cy="219.22" r="0.52" fill="#3a0602"/><circle cx="325.40" cy="215.66" r="0.42" fill="#3a0602"/><circle cx="328.15" cy="219.22" r="0.39" fill="#3a0602"/><circle cx="327.32" cy="218.79" r="0.52" fill="#3a0602"/><circle cx="326.32" cy="216.36" r="0.42" fill="#3a0602"/><circle cx="336.50" cy="216.90" r="4.30" fill="#4a0804"/><circle cx="337.98" cy="219.49" r="0.76" fill="#d01a08"/><circle cx="336.75" cy="218.38" r="0.79" fill="#d01a08"/><circle cx="335.76" cy="217.38" r="0.49" fill="#e81808"/><circle cx="337.35" cy="216.32" r="0.51" fill="#c81006"/><circle cx="334.03" cy="218.26" r="0.73" fill="#d01a08"/><circle cx="335.64" cy="213.90" r="0.64" fill="#d01a08"/><circle cx="337.66" cy="213.42" r="0.52" fill="#e81808"/><circle cx="333.44" cy="214.90" r="0.78" fill="#d01a08"/><circle cx="336.70" cy="219.23" r="0.69" fill="#e81808"/><circle cx="336.22" cy="216.02" r="0.52" fill="#ff2a0a"/><circle cx="337.54" cy="213.68" r="0.70" fill="#d01a08"/><circle cx="339.44" cy="214.46" r="0.79" fill="#e81808"/><circle cx="340.18" cy="215.90" r="0.77" fill="#c81006"/><circle cx="334.36" cy="219.16" r="0.58" fill="#c81006"/><circle cx="334.50" cy="214.49" r="0.76" fill="#ff4a10"/><circle cx="335.55" cy="217.42" r="0.78" fill="#ff4a10"/><circle cx="334.31" cy="216.29" r="0.56" fill="#a00c04"/><circle cx="335.39" cy="213.92" r="0.59" fill="#e81808"/><circle cx="339.80" cy="216.11" r="0.67" fill="#d01a08"/><circle cx="336.53" cy="219.88" r="0.58" fill="#ff2a0a"/><circle cx="334.69" cy="214.45" r="0.68" fill="#ff4a10"/><circle cx="340.02" cy="217.94" r="0.59" fill="#ff4a10"/><circle cx="336.13" cy="219.50" r="0.69" fill="#e81808"/><circle cx="337.25" cy="218.33" r="0.72" fill="#c81006"/><circle cx="337.80" cy="217.06" r="0.79" fill="#c81006"/><circle cx="333.75" cy="217.43" r="0.71" fill="#ff2a0a"/><circle cx="335.12" cy="219.30" r="0.47" fill="#e81808"/><circle cx="335.85" cy="215.03" r="0.71" fill="#ff2a0a"/><circle cx="335.05" cy="216.88" r="0.80" fill="#e81808"/><circle cx="336.52" cy="214.09" r="0.46" fill="#ff2a0a"/><circle cx="337.45" cy="213.79" r="0.52" fill="#d01a08"/><circle cx="333.97" cy="217.68" r="0.67" fill="#d01a08"/><circle cx="332.79" cy="217.56" r="0.53" fill="#d01a08"/><circle cx="333.27" cy="217.79" r="0.63" fill="#ff2a0a"/><circle cx="336.39" cy="216.23" r="0.53" fill="#ff2a0a"/><circle cx="337.14" cy="219.48" r="0.51" fill="#ff2a0a"/><circle cx="338.96" cy="216.83" r="0.61" fill="#ff2a0a"/><circle cx="337.85" cy="214.32" r="0.64" fill="#3a0602"/><circle cx="337.03" cy="215.06" r="0.44" fill="#3a0602"/><circle cx="336.35" cy="216.10" r="0.53" fill="#3a0602"/><circle cx="337.15" cy="217.30" r="0.50" fill="#3a0602"/><circle cx="338.43" cy="219.60" r="0.61" fill="#3a0602"/><circle cx="335.01" cy="217.26" r="0.39" fill="#3a0602"/><circle cx="334.02" cy="216.79" r="0.46" fill="#3a0602"/><circle cx="335.97" cy="214.45" r="0.58" fill="#3a0602"/><circle cx="337.22" cy="217.46" r="0.47" fill="#3a0602"/><circle cx="334.78" cy="217.08" r="0.55" fill="#3a0602"/><circle cx="346.90" cy="216.90" r="4.30" fill="#4a0804"/><circle cx="347.50" cy="220.28" r="0.72" fill="#ff2a0a"/><circle cx="343.56" cy="216.15" r="0.56" fill="#e81808"/><circle cx="348.96" cy="218.50" r="0.55" fill="#e81808"/><circle cx="349.26" cy="213.98" r="0.47" fill="#d01a08"/><circle cx="344.34" cy="214.52" r="0.72" fill="#a00c04"/><circle cx="345.44" cy="216.72" r="0.70" fill="#d01a08"/><circle cx="348.87" cy="217.56" r="0.50" fill="#e81808"/><circle cx="346.23" cy="214.83" r="0.66" fill="#a00c04"/><circle cx="347.68" cy="218.31" r="0.60" fill="#ff2a0a"/><circle cx="344.83" cy="219.33" r="0.48" fill="#d01a08"/><circle cx="349.41" cy="215.90" r="0.51" fill="#ff2a0a"/><circle cx="347.10" cy="213.36" r="0.71" fill="#a00c04"/><circle cx="349.04" cy="218.61" r="0.54" fill="#a00c04"/><circle cx="348.17" cy="213.93" r="0.67" fill="#ff2a0a"/><circle cx="348.13" cy="219.24" r="0.60" fill="#e81808"/><circle cx="349.19" cy="214.24" r="0.66" fill="#e81808"/><circle cx="349.01" cy="216.24" r="0.74" fill="#ff2a0a"/><circle cx="348.92" cy="216.24" r="0.59" fill="#ff2a0a"/><circle cx="348.32" cy="218.08" r="0.59" fill="#d01a08"/><circle cx="347.26" cy="214.01" r="0.74" fill="#d01a08"/><circle cx="348.19" cy="213.27" r="0.71" fill="#ff2a0a"/><circle cx="346.83" cy="220.53" r="0.50" fill="#ff4a10"/><circle cx="346.05" cy="213.29" r="0.51" fill="#ff2a0a"/><circle cx="347.94" cy="215.90" r="0.71" fill="#d01a08"/><circle cx="343.34" cy="215.92" r="0.74" fill="#a00c04"/><circle cx="350.19" cy="215.74" r="0.74" fill="#d01a08"/><circle cx="345.36" cy="219.31" r="0.46" fill="#e81808"/><circle cx="347.40" cy="220.34" r="0.52" fill="#a00c04"/><circle cx="345.03" cy="214.64" r="0.67" fill="#ff4a10"/><circle cx="343.29" cy="217.58" r="0.56" fill="#ff2a0a"/><circle cx="345.77" cy="216.34" r="0.74" fill="#ff4a10"/><circle cx="350.36" cy="218.49" r="0.53" fill="#c81006"/><circle cx="345.39" cy="218.67" r="0.69" fill="#e81808"/><circle cx="345.09" cy="214.24" r="0.46" fill="#c81006"/><circle cx="345.84" cy="217.41" r="0.74" fill="#d01a08"/><circle cx="345.77" cy="218.33" r="0.73" fill="#c81006"/><circle cx="344.39" cy="219.69" r="0.51" fill="#d01a08"/><circle cx="346.07" cy="213.69" r="0.41" fill="#3a0602"/><circle cx="346.27" cy="218.77" r="0.57" fill="#3a0602"/><circle cx="347.88" cy="219.25" r="0.50" fill="#3a0602"/><circle cx="346.26" cy="215.77" r="0.64" fill="#3a0602"/><circle cx="349.48" cy="216.90" r="0.59" fill="#3a0602"/><circle cx="348.23" cy="219.90" r="0.52" fill="#3a0602"/><circle cx="347.09" cy="213.70" r="0.46" fill="#3a0602"/><circle cx="348.29" cy="216.18" r="0.36" fill="#3a0602"/><circle cx="343.64" cy="216.85" r="0.62" fill="#3a0602"/><circle cx="349.26" cy="216.21" r="0.63" fill="#3a0602"/><rect x="352.40" y="224.00" width="4.6" height="0.75" fill="#b8b8b8"/><text x="336.45" y="240.40" font-size="11" font-family="'Liberation Serif', 'DejaVu Serif', serif" fill="#111" text-anchor="middle">(<tspan font-weight="bold">i</tspan>)</text><rect x="377.20" y="185.20" width="43.10" height="43.40" fill="#080204"/><circle cx="395.60" cy="204.00" r="1.75" fill="#b80a04"/><circle cx="395.04" cy="203.78" r="0.73" fill="#ff2a18"/><circle cx="396.46" cy="204.99" r="0.53" fill="#e01008"/><circle cx="394.64" cy="203.92" r="0.57" fill="#e01008"/><circle cx="395.59" cy="202.72" r="0.51" fill="#7a0502"/><circle cx="396.27" cy="205.31" r="0.70" fill="#ff1a10"/><circle cx="395.59" cy="202.67" r="0.55" fill="#ff2a18"/><circle cx="395.92" cy="203.84" r="0.60" fill="#ff1a10"/><circle cx="396.61" cy="202.90" r="0.60" fill="#c00a04"/><circle cx="394.38" cy="204.31" r="0.57" fill="#e01008"/><circle cx="396.35" cy="203.98" r="0.57" fill="#ff2a18"/><circle cx="395.27" cy="204.96" r="0.52" fill="#c00a04"/><circle cx="396.65" cy="205.04" r="0.72" fill="#7a0502"/><circle cx="394.24" cy="204.12" r="0.49" fill="#3a0602"/><circle cx="395.95" cy="205.02" r="0.39" fill="#3a0602"/><circle cx="398.70" cy="204.00" r="1.75" fill="#b80a04"/><circle cx="398.91" cy="204.37" r="0.79" fill="#ff2a18"/><circle cx="399.83" cy="204.82" r="0.74" fill="#e01008"/><circle cx="397.30" cy="204.31" r="0.46" fill="#ff2a18"/><circle cx="397.94" cy="204.99" r="0.59" fill="#ff2a18"/><circle cx="398.25" cy="203.57" r="0.71" fill="#ff1a10"/><circle cx="400.11" cy="203.54" r="0.73" fill="#7a0502"/><circle cx="398.03" cy="203.68" r="0.50" fill="#7a0502"/><circle cx="397.46" cy="204.87" r="0.73" fill="#ff1a10"/><circle cx="397.86" cy="203.24" r="0.63" fill="#ff1a10"/><circle cx="398.03" cy="204.93" r="0.67" fill="#ff2a18"/><circle cx="399.29" cy="204.53" r="0.65" fill="#c00a04"/><circle cx="400.15" cy="204.15" r="0.67" fill="#ff1a10"/><circle cx="398.57" cy="204.80" r="0.60" fill="#3a0602"/><circle cx="399.32" cy="204.98" r="0.36" fill="#3a0602"/><circle cx="401.80" cy="204.00" r="1.75" fill="#b80a04"/><circle cx="401.93" cy="204.36" r="0.50" fill="#e01008"/><circle cx="402.10" cy="205.53" r="0.77" fill="#ff1a10"/><circle cx="402.90" cy="203.62" r="0.48" fill="#e01008"/><circle cx="401.17" cy="204.28" r="0.75" fill="#ff2a18"/><circle cx="400.70" cy="204.59" r="0.51" fill="#e01008"/><circle cx="402.83" cy="203.85" r="0.46" fill="#e01008"/><circle cx="402.82" cy="204.87" r="0.69" fill="#e01008"/><circle cx="401.03" cy="204.92" r="0.54" fill="#e01008"/><circle cx="401.56" cy="204.03" r="0.77" fill="#e01008"/><circle cx="402.40" cy="205.28" r="0.47" fill="#7a0502"/><circle cx="400.72" cy="202.96" r="0.64" fill="#7a0502"/><circle cx="403.15" cy="204.12" r="0.68" fill="#7a0502"/><circle cx="403.02" cy="203.55" r="0.62" fill="#3a0602"/><circle cx="401.31" cy="203.80" r="0.40" fill="#3a0602"/><circle cx="395.60" cy="206.90" r="1.75" fill="#b80a04"/><circle cx="394.52" cy="207.87" r="0.73" fill="#7a0502"/><circle cx="396.89" cy="206.38" r="0.52" fill="#ff2a18"/><circle cx="395.46" cy="205.90" r="0.78" fill="#7a0502"/><circle cx="396.43" cy="208.23" r="0.52" fill="#7a0502"/><circle cx="396.28" cy="205.49" r="0.56" fill="#7a0502"/><circle cx="395.49" cy="208.38" r="0.62" fill="#c00a04"/><circle cx="396.53" cy="205.76" r="0.47" fill="#ff2a18"/><circle cx="395.68" cy="205.71" r="0.66" fill="#ff2a18"/><circle cx="395.57" cy="206.80" r="0.50" fill="#ff2a18"/><circle cx="395.51" cy="207.42" r="0.60" fill="#c00a04"/><circle cx="396.46" cy="207.38" r="0.74" fill="#c00a04"/><circle cx="395.86" cy="208.06" r="0.77" fill="#7a0502"/><circle cx="396.51" cy="206.89" r="0.52" fill="#3a0602"/><circle cx="396.04" cy="205.76" r="0.49" fill="#3a0602"/><circle cx="398.70" cy="206.90" r="1.75" fill="#b80a04"/><circle cx="399.35" cy="206.15" r="0.62" fill="#ff1a10"/><circle cx="400.08" cy="207.31" r="0.55" fill="#7a0502"/><circle cx="399.86" cy="206.81" r="0.50" fill="#ff2a18"/><circle cx="399.20" cy="206.27" r="0.61" fill="#ff1a10"/><circle cx="399.94" cy="207.65" r="0.46" fill="#ff2a18"/><circle cx="397.78" cy="206.23" r="0.74" fill="#7a0502"/><circle cx="398.93" cy="207.43" r="0.49" fill="#e01008"/><circle cx="399.50" cy="205.61" r="0.53" fill="#e01008"/><circle cx="398.70" cy="208.42" r="0.66" fill="#ff1a10"/><circle cx="397.92" cy="206.06" r="0.61" fill="#ff1a10"/><circle cx="397.84" cy="207.40" r="0.58" fill="#ff2a18"/><circle cx="397.59" cy="207.03" r="0.63" fill="#ff1a10"/><circle cx="397.86" cy="206.60" r="0.40" fill="#3a0602"/><circle cx="399.33" cy="207.63" r="0.50" fill="#3a0602"/><circle cx="401.80" cy="206.90" r="1.75" fill="#b80a04"/><circle cx="401.69" cy="207.85" r="0.72" fill="#7a0502"/><circle cx="401.23" cy="207.95" r="0.49" fill="#e01008"/><circle cx="400.48" cy="206.91" r="0.51" fill="#ff1a10"/><circle cx="401.36" cy="207.87" r="0.61" fill="#c00a04"/><circle cx="400.38" cy="206.31" r="0.58" fill="#e01008"/><circle cx="400.39" cy="206.51" r="0.58" fill="#7a0502"/><circle cx="402.11" cy="207.69" r="0.70" fill="#7a0502"/><circle cx="401.94" cy="206.96" r="0.52" fill="#7a0502"/><circle cx="401.26" cy="206.02" r="0.55" fill="#ff1a10"/><circle cx="403.10" cy="206.84" r="0.45" fill="#ff1a10"/><circle cx="403.29" cy="206.66" r="0.69" fill="#7a0502"/><circle cx="400.51" cy="207.66" r="0.74" fill="#ff1a10"/><circle cx="400.55" cy="206.28" r="0.62" fill="#3a0602"/><circle cx="401.90" cy="207.53" r="0.39" fill="#3a0602"/><circle cx="395.60" cy="209.80" r="1.75" fill="#b80a04"/><circle cx="394.44" cy="209.11" r="0.69" fill="#ff2a18"/><circle cx="394.38" cy="210.63" r="0.79" fill="#ff1a10"/><circle cx="396.31" cy="208.49" r="0.60" fill="#ff1a10"/><circle cx="397.10" cy="209.35" r="0.67" fill="#ff2a18"/><circle cx="396.31" cy="210.94" r="0.58" fill="#c00a04"/><circle cx="395.57" cy="210.85" r="0.66" fill="#ff1a10"/><circle cx="396.20" cy="210.74" r="0.65" fill="#ff2a18"/><circle cx="394.27" cy="210.11" r="0.53" fill="#e01008"/><circle cx="395.72" cy="211.26" r="0.53" fill="#ff1a10"/><circle cx="396.24" cy="208.72" r="0.46" fill="#ff1a10"/><circle cx="394.53" cy="210.13" r="0.66" fill="#e01008"/><circle cx="395.86" cy="210.56" r="0.71" fill="#c00a04"/><circle cx="395.06" cy="209.07" r="0.44" fill="#3a0602"/><circle cx="394.25" cy="209.70" r="0.42" fill="#3a0602"/><circle cx="398.70" cy="209.80" r="1.75" fill="#b80a04"/><circle cx="399.56" cy="211.06" r="0.70" fill="#ff2a18"/><circle cx="400.11" cy="209.12" r="0.71" fill="#e01008"/><circle cx="399.11" cy="208.90" r="0.47" fill="#7a0502"/><circle cx="398.64" cy="208.47" r="0.51" fill="#e01008"/><circle cx="397.32" cy="210.42" r="0.45" fill="#e01008"/><circle cx="398.02" cy="208.70" r="0.55" fill="#c00a04"/><circle cx="398.29" cy="210.50" r="0.53" fill="#ff2a18"/><circle cx="397.82" cy="210.31" r="0.47" fill="#e01008"/><circle cx="399.97" cy="209.73" r="0.62" fill="#e01008"/><circle cx="399.93" cy="210.68" r="0.61" fill="#ff1a10"/><circle cx="399.66" cy="209.38" r="0.62" fill="#e01008"/><circle cx="397.86" cy="208.48" r="0.70" fill="#ff1a10"/><circle cx="399.30" cy="210.32" r="0.37" fill="#3a0602"/><circle cx="397.67" cy="209.21" r="0.45" fill="#3a0602"/><circle cx="401.80" cy="209.80" r="1.75" fill="#b80a04"/><circle cx="401.48" cy="208.90" r="0.55" fill="#ff2a18"/><circle cx="400.50" cy="210.33" r="0.75" fill="#e01008"/><circle cx="401.01" cy="208.57" r="0.48" fill="#e01008"/><circle cx="403.30" cy="209.83" r="0.80" fill="#c00a04"/><circle cx="402.58" cy="208.68" r="0.78" fill="#ff2a18"/><circle cx="403.04" cy="209.56" r="0.65" fill="#e01008"/><circle cx="401.53" cy="210.46" r="0.49" fill="#c00a04"/><circle cx="400.67" cy="209.73" r="0.63" fill="#7a0502"/><circle cx="402.82" cy="209.94" r="0.47" fill="#c00a04"/><circle cx="401.58" cy="211.16" r="0.72" fill="#7a0502"/><circle cx="400.49" cy="210.00" r="0.64" fill="#7a0502"/><circle cx="401.55" cy="210.77" r="0.74" fill="#ff2a18"/><circle cx="401.30" cy="210.84" r="0.57" fill="#3a0602"/><circle cx="402.56" cy="208.90" r="0.49" fill="#3a0602"/><rect x="414.70" y="224.00" width="4.6" height="0.75" fill="#b8b8b8"/><text x="398.75" y="240.40" font-size="11" font-family="'Liberation Serif', 'DejaVu Serif', serif" fill="#111" text-anchor="middle">(<tspan font-weight="bold">j</tspan>)</text><rect x="439.50" y="185.20" width="43.10" height="43.40" fill="#080204"/><circle cx="454.60" cy="200.60" r="2.40" fill="#6a0e04"/><circle cx="455.71" cy="201.27" r="0.74" fill="#ff6a1a"/><circle cx="453.60" cy="199.13" r="0.69" fill="#c81806"/><circle cx="452.99" cy="200.09" r="0.66" fill="#f0300c"/><circle cx="455.41" cy="199.72" r="0.57" fill="#ff6a1a"/><circle cx="456.10" cy="201.81" r="0.62" fill="#c81806"/><circle cx="455.07" cy="201.95" r="0.57" fill="#ff6a1a"/><circle cx="455.67" cy="199.43" r="0.79" fill="#e82208"/><circle cx="454.16" cy="198.76" r="0.54" fill="#ff3a10"/><circle cx="455.48" cy="199.41" r="0.72" fill="#c81806"/><circle cx="452.85" cy="200.50" r="0.80" fill="#c81806"/><circle cx="456.57" cy="200.44" r="0.71" fill="#ff3a10"/><circle cx="454.69" cy="199.36" r="0.67" fill="#e82208"/><circle cx="455.04" cy="202.18" r="0.53" fill="#ff3a10"/><circle cx="455.22" cy="202.50" r="0.53" fill="#a01206"/><circle cx="454.85" cy="198.82" r="0.63" fill="#a01206"/><circle cx="456.03" cy="201.51" r="0.80" fill="#c81806"/><circle cx="456.25" cy="200.76" r="0.68" fill="#ff6a1a"/><circle cx="454.65" cy="201.95" r="0.73" fill="#c81806"/><circle cx="454.40" cy="202.28" r="0.49" fill="#3a0602"/><circle cx="455.05" cy="200.56" r="0.46" fill="#3a0602"/><circle cx="454.81" cy="202.10" r="0.58" fill="#3a0602"/><circle cx="461.20" cy="200.60" r="2.40" fill="#6a0e04"/><circle cx="462.29" cy="198.93" r="0.49" fill="#c81806"/><circle cx="461.30" cy="198.73" r="0.76" fill="#c81806"/><circle cx="459.84" cy="200.93" r="0.48" fill="#c81806"/><circle cx="463.29" cy="200.66" r="0.57" fill="#c81806"/><circle cx="462.08" cy="200.50" r="0.62" fill="#c81806"/><circle cx="460.79" cy="202.19" r="0.75" fill="#a01206"/><circle cx="460.16" cy="199.68" r="0.78" fill="#c81806"/><circle cx="461.92" cy="199.51" r="0.67" fill="#e82208"/><circle cx="460.41" cy="202.07" r="0.78" fill="#c81806"/><circle cx="461.22" cy="200.73" r="0.52" fill="#a01206"/><circle cx="459.33" cy="201.26" r="0.61" fill="#c81806"/><circle cx="462.02" cy="198.70" r="0.56" fill="#ff6a1a"/><circle cx="460.53" cy="199.27" r="0.51" fill="#f0300c"/><circle cx="461.63" cy="201.43" r="0.63" fill="#f0300c"/><circle cx="460.52" cy="200.02" r="0.56" fill="#a01206"/><circle cx="459.41" cy="200.21" r="0.49" fill="#c81806"/><circle cx="460.56" cy="202.26" r="0.67" fill="#a01206"/><circle cx="462.09" cy="199.07" r="0.56" fill="#e82208"/><circle cx="461.22" cy="199.44" r="0.48" fill="#3a0602"/><circle cx="462.91" cy="200.27" r="0.55" fill="#3a0602"/><circle cx="462.38" cy="201.53" r="0.36" fill="#3a0602"/><circle cx="467.60" cy="200.60" r="2.40" fill="#6a0e04"/><circle cx="469.55" cy="199.74" r="0.54" fill="#ff3a10"/><circle cx="468.47" cy="202.36" r="0.46" fill="#e82208"/><circle cx="465.77" cy="201.32" r="0.64" fill="#e82208"/><circle cx="467.99" cy="201.88" r="0.57" fill="#ff3a10"/><circle cx="467.87" cy="200.43" r="0.47" fill="#f0300c"/><circle cx="467.30" cy="201.70" r="0.77" fill="#e82208"/><circle cx="469.03" cy="200.51" r="0.55" fill="#ff3a10"/><circle cx="468.12" cy="199.30" r="0.77" fill="#a01206"/><circle cx="465.93" cy="200.77" r="0.58" fill="#a01206"/><circle cx="466.15" cy="200.93" r="0.78" fill="#c81806"/><circle cx="467.33" cy="202.69" r="0.50" fill="#c81806"/><circle cx="465.91" cy="201.89" r="0.58" fill="#a01206"/><circle cx="466.73" cy="201.83" r="0.72" fill="#f0300c"/><circle cx="466.40" cy="202.11" r="0.68" fill="#ff6a1a"/><circle cx="468.42" cy="201.83" r="0.79" fill="#e82208"/><circle cx="467.82" cy="199.67" r="0.57" fill="#ff3a10"/><circle cx="467.47" cy="202.15" r="0.66" fill="#e82208"/><circle cx="466.82" cy="202.38" r="0.56" fill="#e82208"/><circle cx="466.19" cy="200.12" r="0.54" fill="#3a0602"/><circle cx="468.79" cy="201.80" r="0.44" fill="#3a0602"/><circle cx="468.71" cy="199.31" r="0.55" fill="#3a0602"/><circle cx="454.60" cy="206.90" r="2.40" fill="#6a0e04"/><circle cx="455.17" cy="205.59" r="0.78" fill="#e82208"/><circle cx="455.79" cy="205.21" r="0.56" fill="#f0300c"/><circle cx="455.59" cy="205.80" r="0.65" fill="#e82208"/><circle cx="455.59" cy="208.48" r="0.62" fill="#ff3a10"/><circle cx="455.94" cy="207.04" r="0.72" fill="#a01206"/><circle cx="455.74" cy="207.75" r="0.80" fill="#f0300c"/><circle cx="454.45" cy="205.88" r="0.68" fill="#c81806"/><circle cx="456.14" cy="208.08" r="0.51" fill="#c81806"/><circle cx="455.51" cy="208.22" r="0.49" fill="#a01206"/><circle cx="455.55" cy="205.89" r="0.54" fill="#ff3a10"/><circle cx="454.43" cy="208.98" r="0.53" fill="#e82208"/><circle cx="454.96" cy="205.44" r="0.45" fill="#c81806"/><circle cx="454.60" cy="205.56" r="0.53" fill="#c81806"/><circle cx="456.65" cy="207.38" r="0.59" fill="#c81806"/><circle cx="453.12" cy="207.74" r="0.71" fill="#f0300c"/><circle cx="452.85" cy="207.63" r="0.62" fill="#e82208"/><circle cx="455.57" cy="205.09" r="0.52" fill="#ff3a10"/><circle cx="453.23" cy="206.36" r="0.54" fill="#a01206"/><circle cx="453.94" cy="206.86" r="0.56" fill="#3a0602"/><circle cx="455.62" cy="206.15" r="0.35" fill="#3a0602"/><circle cx="454.53" cy="208.24" r="0.40" fill="#3a0602"/><circle cx="461.20" cy="206.90" r="2.40" fill="#6a0e04"/><circle cx="461.89" cy="208.73" r="0.60" fill="#f0300c"/><circle cx="461.07" cy="205.93" r="0.68" fill="#f0300c"/><circle cx="460.82" cy="208.18" r="0.63" fill="#e82208"/><circle cx="460.80" cy="207.56" r="0.55" fill="#c81806"/><circle cx="460.65" cy="208.40" r="0.49" fill="#f0300c"/><circle cx="459.96" cy="205.36" r="0.77" fill="#f0300c"/><circle cx="461.78" cy="208.13" r="0.60" fill="#ff3a10"/><circle cx="462.45" cy="208.04" r="0.49" fill="#e82208"/><circle cx="459.80" cy="208.21" r="0.58" fill="#a01206"/><circle cx="461.25" cy="205.55" r="0.61" fill="#e82208"/><circle cx="461.97" cy="208.01" r="0.58" fill="#a01206"/><circle cx="459.80" cy="206.73" r="0.76" fill="#e82208"/><circle cx="462.52" cy="208.18" r="0.68" fill="#c81806"/><circle cx="462.41" cy="206.14" r="0.49" fill="#ff3a10"/><circle cx="459.93" cy="207.76" r="0.73" fill="#c81806"/><circle cx="462.21" cy="207.93" r="0.53" fill="#ff3a10"/><circle cx="461.84" cy="205.43" r="0.47" fill="#c81806"/><circle cx="461.86" cy="205.53" r="0.74" fill="#ff3a10"/><circle cx="459.45" cy="206.17" r="0.51" fill="#3a0602"/><circle cx="460.61" cy="206.02" r="0.37" fill="#3a0602"/><circle cx="462.16" cy="207.71" r="0.52" fill="#3a0602"/><circle cx="467.60" cy="206.90" r="2.40" fill="#6a0e04"/><circle cx="468.03" cy="208.83" r="0.69" fill="#c81806"/><circle cx="468.30" cy="208.57" r="0.55" fill="#c81806"/><circle cx="466.47" cy="205.56" r="0.57" fill="#c81806"/><circle cx="468.76" cy="207.92" r="0.70" fill="#c81806"/><circle cx="467.63" cy="208.96" r="0.66" fill="#a01206"/><circle cx="469.28" cy="205.56" r="0.54" fill="#a01206"/><circle cx="467.85" cy="206.15" r="0.49" fill="#a01206"/><circle cx="468.69" cy="207.00" r="0.58" fill="#f0300c"/><circle cx="466.17" cy="205.62" r="0.48" fill="#f0300c"/><circle cx="467.89" cy="206.02" r="0.64" fill="#ff6a1a"/><circle cx="468.51" cy="207.15" r="0.59" fill="#ff6a1a"/><circle cx="468.19" cy="208.56" r="0.79" fill="#c81806"/><circle cx="466.27" cy="207.84" r="0.52" fill="#e82208"/><circle cx="469.46" cy="206.48" r="0.61" fill="#ff3a10"/><circle cx="467.71" cy="208.76" r="0.78" fill="#c81806"/><circle cx="468.41" cy="206.13" r="0.62" fill="#c81806"/><circle cx="465.88" cy="205.63" r="0.51" fill="#a01206"/><circle cx="466.73" cy="205.33" r="0.52" fill="#c81806"/><circle cx="468.52" cy="205.86" r="0.39" fill="#3a0602"/><circle cx="465.80" cy="206.30" r="0.59" fill="#3a0602"/><circle cx="468.61" cy="206.71" r="0.37" fill="#3a0602"/><circle cx="454.60" cy="213.40" r="2.40" fill="#6a0e04"/><circle cx="455.17" cy="215.39" r="0.53" fill="#ff6a1a"/><circle cx="455.92" cy="213.50" r="0.79" fill="#e82208"/><circle cx="453.73" cy="214.01" r="0.61" fill="#ff6a1a"/><circle cx="453.24" cy="212.63" r="0.79" fill="#c81806"/><circle cx="454.26" cy="213.23" r="0.72" fill="#a01206"/><circle cx="456.41" cy="213.64" r="0.69" fill="#a01206"/><circle cx="455.43" cy="214.49" r="0.61" fill="#c81806"/><circle cx="453.84" cy="213.96" r="0.65" fill="#f0300c"/><circle cx="453.44" cy="212.19" r="0.73" fill="#a01206"/><circle cx="454.41" cy="212.97" r="0.63" fill="#ff3a10"/><circle cx="453.69" cy="214.97" r="0.68" fill="#f0300c"/><circle cx="454.39" cy="214.80" r="0.61" fill="#ff6a1a"/><circle cx="454.71" cy="211.56" r="0.73" fill="#e82208"/><circle cx="454.52" cy="211.62" r="0.52" fill="#e82208"/><circle cx="453.35" cy="213.45" r="0.80" fill="#ff6a1a"/><circle cx="454.14" cy="213.45" r="0.73" fill="#ff3a10"/><circle cx="455.21" cy="214.59" r="0.62" fill="#ff6a1a"/><circle cx="453.16" cy="213.36" r="0.47" fill="#ff6a1a"/><circle cx="454.68" cy="214.46" r="0.50" fill="#3a0602"/><circle cx="453.38" cy="214.34" r="0.50" fill="#3a0602"/><circle cx="453.94" cy="214.74" r="0.65" fill="#3a0602"/><circle cx="461.20" cy="213.40" r="2.40" fill="#6a0e04"/><circle cx="461.61" cy="214.74" r="0.47" fill="#ff6a1a"/><circle cx="462.23" cy="212.13" r="0.48" fill="#ff6a1a"/><circle cx="459.85" cy="212.65" r="0.67" fill="#ff3a10"/><circle cx="459.80" cy="213.40" r="0.68" fill="#ff6a1a"/><circle cx="460.98" cy="211.48" r="0.49" fill="#a01206"/><circle cx="459.34" cy="213.76" r="0.56" fill="#a01206"/><circle cx="462.71" cy="211.95" r="0.74" fill="#e82208"/><circle cx="460.10" cy="214.89" r="0.66" fill="#ff3a10"/><circle cx="460.42" cy="214.79" r="0.65" fill="#a01206"/><circle cx="461.82" cy="211.44" r="0.67" fill="#a01206"/><circle cx="463.02" cy="213.04" r="0.64" fill="#f0300c"/><circle cx="460.73" cy="215.26" r="0.70" fill="#e82208"/><circle cx="462.91" cy="213.74" r="0.53" fill="#ff6a1a"/><circle cx="462.17" cy="211.81" r="0.79" fill="#c81806"/><circle cx="460.59" cy="212.86" r="0.74" fill="#ff3a10"/><circle cx="461.23" cy="215.01" r="0.73" fill="#e82208"/><circle cx="462.11" cy="212.05" r="0.63" fill="#ff6a1a"/><circle cx="461.91" cy="213.64" r="0.45" fill="#a01206"/><circle cx="460.51" cy="211.89" r="0.45" fill="#3a0602"/><circle cx="462.27" cy="213.91" r="0.63" fill="#3a0602"/><circle cx="460.83" cy="213.30" r="0.61" fill="#3a0602"/><circle cx="467.60" cy="213.40" r="2.40" fill="#6a0e04"/><circle cx="468.48" cy="212.23" r="0.62" fill="#ff3a10"/><circle cx="468.03" cy="215.45" r="0.53" fill="#ff3a10"/><circle cx="469.56" cy="214.09" r="0.51" fill="#ff6a1a"/><circle cx="466.28" cy="211.93" r="0.56" fill="#e82208"/><circle cx="468.66" cy="212.82" r="0.69" fill="#f0300c"/><circle cx="465.98" cy="212.68" r="0.50" fill="#c81806"/><circle cx="468.42" cy="212.72" r="0.69" fill="#ff3a10"/><circle cx="468.08" cy="214.92" r="0.71" fill="#f0300c"/><circle cx="466.22" cy="213.69" r="0.57" fill="#e82208"/><circle cx="467.91" cy="213.90" r="0.48" fill="#f0300c"/><circle cx="466.49" cy="214.19" r="0.78" fill="#f0300c"/><circle cx="466.15" cy="213.87" r="0.73" fill="#f0300c"/><circle cx="466.44" cy="215.07" r="0.76" fill="#ff3a10"/><circle cx="467.29" cy="214.51" r="0.52" fill="#c81806"/><circle cx="466.72" cy="213.72" r="0.73" fill="#c81806"/><circle cx="466.09" cy="214.82" r="0.61" fill="#a01206"/><circle cx="466.05" cy="213.97" r="0.53" fill="#f0300c"/><circle cx="467.85" cy="211.26" r="0.62" fill="#ff6a1a"/><circle cx="468.57" cy="211.78" r="0.45" fill="#3a0602"/><circle cx="466.70" cy="212.29" r="0.57" fill="#3a0602"/><circle cx="468.64" cy="214.01" r="0.40" fill="#3a0602"/><rect x="477.00" y="224.00" width="4.6" height="0.75" fill="#b8b8b8"/><text x="461.05" y="240.40" font-size="11" font-family="'Liberation Serif', 'DejaVu Serif', serif" fill="#111" text-anchor="middle">(<tspan font-weight="bold">k</tspan>)</text><rect x="501.80" y="185.20" width="43.10" height="43.40" fill="#080204"/><circle cx="513.00" cy="196.50" r="2.40" fill="#6a0e04"/><circle cx="511.30" cy="197.58" r="0.55" fill="#a01206"/><circle cx="510.93" cy="196.79" r="0.67" fill="#ff3a10"/><circle cx="511.26" cy="197.55" r="0.74" fill="#c81806"/><circle cx="513.95" cy="195.56" r="0.80" fill="#f0300c"/><circle cx="513.64" cy="198.32" r="0.48" fill="#e82208"/><circle cx="512.31" cy="198.24" r="0.69" fill="#ff6a1a"/><circle cx="512.08" cy="195.48" r="0.63" fill="#a01206"/><circle cx="512.99" cy="194.62" r="0.68" fill="#a01206"/><circle cx="512.22" cy="196.94" r="0.66" fill="#a01206"/><circle cx="515.16" cy="196.37" r="0.71" fill="#ff3a10"/><circle cx="514.35" cy="196.32" r="0.51" fill="#c81806"/><circle cx="512.48" cy="198.16" r="0.55" fill="#a01206"/><circle cx="512.50" cy="196.82" r="0.51" fill="#e82208"/><circle cx="512.50" cy="195.26" r="0.74" fill="#c81806"/><circle cx="511.92" cy="197.78" r="0.49" fill="#ff3a10"/><circle cx="512.60" cy="196.53" r="0.67" fill="#c81806"/><circle cx="511.82" cy="197.74" r="0.51" fill="#ff6a1a"/><circle cx="514.93" cy="195.82" r="0.50" fill="#f0300c"/><circle cx="512.32" cy="195.51" r="0.52" fill="#3a0602"/><circle cx="513.69" cy="198.26" r="0.55" fill="#3a0602"/><circle cx="511.50" cy="196.19" r="0.38" fill="#3a0602"/><circle cx="523.60" cy="196.50" r="2.40" fill="#6a0e04"/><circle cx="523.08" cy="197.39" r="0.45" fill="#ff6a1a"/><circle cx="523.08" cy="195.18" r="0.58" fill="#ff6a1a"/><circle cx="523.81" cy="198.42" r="0.57" fill="#ff6a1a"/><circle cx="521.85" cy="195.64" r="0.58" fill="#ff3a10"/><circle cx="521.93" cy="195.65" r="0.69" fill="#f0300c"/><circle cx="523.85" cy="194.54" r="0.64" fill="#e82208"/><circle cx="523.19" cy="196.53" r="0.53" fill="#ff6a1a"/><circle cx="523.93" cy="194.63" r="0.50" fill="#ff6a1a"/><circle cx="524.14" cy="194.88" r="0.55" fill="#ff6a1a"/><circle cx="522.31" cy="195.59" r="0.57" fill="#ff3a10"/><circle cx="523.18" cy="197.88" r="0.59" fill="#c81806"/><circle cx="524.64" cy="197.44" r="0.54" fill="#a01206"/><circle cx="521.83" cy="197.57" r="0.72" fill="#f0300c"/><circle cx="522.89" cy="194.50" r="0.78" fill="#ff3a10"/><circle cx="523.78" cy="197.52" r="0.73" fill="#c81806"/><circle cx="523.87" cy="196.30" r="0.56" fill="#ff3a10"/><circle cx="521.98" cy="196.37" r="0.67" fill="#c81806"/><circle cx="524.92" cy="197.73" r="0.61" fill="#c81806"/><circle cx="522.68" cy="197.53" r="0.60" fill="#3a0602"/><circle cx="524.80" cy="196.83" r="0.54" fill="#3a0602"/><circle cx="523.54" cy="197.32" r="0.50" fill="#3a0602"/><circle cx="534.20" cy="196.50" r="2.40" fill="#6a0e04"/><circle cx="535.82" cy="195.50" r="0.53" fill="#e82208"/><circle cx="534.50" cy="196.24" r="0.53" fill="#a01206"/><circle cx="533.56" cy="195.12" r="0.58" fill="#ff3a10"/><circle cx="534.96" cy="198.51" r="0.52" fill="#f0300c"/><circle cx="533.24" cy="197.94" r="0.63" fill="#e82208"/><circle cx="535.84" cy="196.01" r="0.50" fill="#ff6a1a"/><circle cx="534.91" cy="197.22" r="0.61" fill="#ff6a1a"/><circle cx="533.48" cy="197.66" r="0.57" fill="#ff6a1a"/><circle cx="534.95" cy="195.89" r="0.78" fill="#ff3a10"/><circle cx="533.65" cy="195.14" r="0.53" fill="#ff3a10"/><circle cx="533.27" cy="198.03" r="0.67" fill="#c81806"/><circle cx="533.65" cy="195.23" r="0.47" fill="#f0300c"/><circle cx="532.70" cy="197.83" r="0.56" fill="#a01206"/><circle cx="534.92" cy="195.20" r="0.57" fill="#a01206"/><circle cx="532.30" cy="197.47" r="0.78" fill="#ff3a10"/><circle cx="532.80" cy="196.25" r="0.63" fill="#ff6a1a"/><circle cx="532.66" cy="197.13" r="0.55" fill="#ff3a10"/><circle cx="532.83" cy="197.37" r="0.54" fill="#ff6a1a"/><circle cx="535.85" cy="196.45" r="0.41" fill="#3a0602"/><circle cx="535.30" cy="197.95" r="0.55" fill="#3a0602"/><circle cx="533.60" cy="196.15" r="0.47" fill="#3a0602"/><circle cx="513.00" cy="207.20" r="2.40" fill="#6a0e04"/><circle cx="514.29" cy="206.75" r="0.80" fill="#ff3a10"/><circle cx="511.35" cy="207.22" r="0.76" fill="#ff6a1a"/><circle cx="512.51" cy="205.84" r="0.63" fill="#e82208"/><circle cx="511.61" cy="207.17" r="0.49" fill="#f0300c"/><circle cx="512.56" cy="207.71" r="0.64" fill="#e82208"/><circle cx="514.59" cy="207.09" r="0.56" fill="#ff3a10"/><circle cx="514.65" cy="207.70" r="0.75" fill="#f0300c"/><circle cx="512.40" cy="205.45" r="0.56" fill="#f0300c"/><circle cx="512.45" cy="206.59" r="0.61" fill="#ff6a1a"/><circle cx="513.63" cy="208.30" r="0.73" fill="#ff3a10"/><circle cx="512.78" cy="205.26" r="0.57" fill="#a01206"/><circle cx="513.29" cy="205.68" r="0.77" fill="#f0300c"/><circle cx="514.73" cy="207.73" r="0.60" fill="#ff3a10"/><circle cx="514.16" cy="208.42" r="0.65" fill="#c81806"/><circle cx="511.44" cy="207.03" r="0.66" fill="#ff6a1a"/><circle cx="514.69" cy="207.38" r="0.66" fill="#c81806"/><circle cx="514.33" cy="207.51" r="0.70" fill="#ff6a1a"/><circle cx="512.05" cy="205.37" r="0.53" fill="#f0300c"/><circle cx="513.05" cy="208.17" r="0.56" fill="#3a0602"/><circle cx="513.38" cy="205.94" r="0.47" fill="#3a0602"/><circle cx="513.18" cy="208.91" r="0.61" fill="#3a0602"/><circle cx="523.60" cy="207.20" r="2.40" fill="#6a0e04"/><circle cx="524.06" cy="206.63" r="0.79" fill="#f0300c"/><circle cx="524.06" cy="205.19" r="0.60" fill="#e82208"/><circle cx="525.37" cy="208.01" r="0.62" fill="#a01206"/><circle cx="524.74" cy="208.42" r="0.63" fill="#f0300c"/><circle cx="523.40" cy="205.60" r="0.65" fill="#c81806"/><circle cx="525.03" cy="208.11" r="0.70" fill="#a01206"/><circle cx="522.58" cy="209.04" r="0.56" fill="#a01206"/><circle cx="524.67" cy="207.33" r="0.51" fill="#a01206"/><circle cx="522.62" cy="208.70" r="0.51" fill="#c81806"/><circle cx="522.79" cy="207.01" r="0.54" fill="#a01206"/><circle cx="523.02" cy="205.88" r="0.55" fill="#f0300c"/><circle cx="522.23" cy="207.76" r="0.50" fill="#e82208"/><circle cx="523.46" cy="206.31" r="0.56" fill="#ff6a1a"/><circle cx="524.95" cy="207.04" r="0.74" fill="#f0300c"/><circle cx="523.59" cy="209.34" r="0.69" fill="#ff6a1a"/><circle cx="525.67" cy="206.95" r="0.80" fill="#ff6a1a"/><circle cx="521.75" cy="207.05" r="0.79" fill="#a01206"/><circle cx="523.43" cy="208.96" r="0.52" fill="#c81806"/><circle cx="524.13" cy="207.54" r="0.44" fill="#3a0602"/><circle cx="522.11" cy="207.21" r="0.65" fill="#3a0602"/><circle cx="524.37" cy="205.68" r="0.55" fill="#3a0602"/><circle cx="534.20" cy="207.20" r="2.40" fill="#6a0e04"/><circle cx="534.04" cy="206.72" r="0.65" fill="#f0300c"/><circle cx="535.36" cy="208.21" r="0.63" fill="#f0300c"/><circle cx="532.36" cy="206.10" r="0.71" fill="#c81806"/><circle cx="532.14" cy="207.81" r="0.72" fill="#ff6a1a"/><circle cx="533.46" cy="206.14" r="0.55" fill="#ff3a10"/><circle cx="534.15" cy="205.09" r="0.66" fill="#f0300c"/><circle cx="533.62" cy="205.93" r="0.79" fill="#ff3a10"/><circle cx="535.35" cy="207.88" r="0.68" fill="#c81806"/><circle cx="535.88" cy="206.42" r="0.68" fill="#a01206"/><circle cx="533.74" cy="208.78" r="0.64" fill="#ff3a10"/><circle cx="534.29" cy="208.98" r="0.70" fill="#a01206"/><circle cx="533.77" cy="207.29" r="0.46" fill="#c81806"/><circle cx="534.96" cy="205.94" r="0.56" fill="#f0300c"/><circle cx="536.22" cy="206.75" r="0.68" fill="#a01206"/><circle cx="533.41" cy="205.97" r="0.59" fill="#e82208"/><circle cx="533.70" cy="208.64" r="0.58" fill="#ff3a10"/><circle cx="532.29" cy="206.84" r="0.48" fill="#a01206"/><circle cx="532.59" cy="206.63" r="0.65" fill="#a01206"/><circle cx="535.67" cy="208.23" r="0.45" fill="#3a0602"/><circle cx="533.02" cy="207.97" r="0.38" fill="#3a0602"/><circle cx="533.73" cy="205.55" r="0.59" fill="#3a0602"/><circle cx="513.00" cy="218.00" r="2.40" fill="#6a0e04"/><circle cx="514.44" cy="216.67" r="0.69" fill="#c81806"/><circle cx="512.00" cy="219.43" r="0.61" fill="#f0300c"/><circle cx="513.67" cy="216.38" r="0.71" fill="#ff3a10"/><circle cx="511.77" cy="219.63" r="0.72" fill="#a01206"/><circle cx="511.84" cy="217.26" r="0.75" fill="#f0300c"/><circle cx="513.82" cy="218.48" r="0.46" fill="#a01206"/><circle cx="512.57" cy="220.04" r="0.64" fill="#e82208"/><circle cx="514.65" cy="217.09" r="0.67" fill="#f0300c"/><circle cx="514.93" cy="218.01" r="0.71" fill="#e82208"/><circle cx="511.54" cy="219.42" r="0.75" fill="#f0300c"/><circle cx="511.11" cy="217.02" r="0.45" fill="#e82208"/><circle cx="512.50" cy="216.92" r="0.62" fill="#ff3a10"/><circle cx="511.67" cy="219.53" r="0.61" fill="#a01206"/><circle cx="511.49" cy="216.91" r="0.70" fill="#f0300c"/><circle cx="512.56" cy="216.46" r="0.45" fill="#ff6a1a"/><circle cx="512.52" cy="215.90" r="0.68" fill="#ff3a10"/><circle cx="514.43" cy="217.16" r="0.53" fill="#f0300c"/><circle cx="512.43" cy="218.20" r="0.74" fill="#a01206"/><circle cx="514.33" cy="217.39" r="0.51" fill="#3a0602"/><circle cx="511.70" cy="217.67" r="0.60" fill="#3a0602"/><circle cx="513.89" cy="217.92" r="0.48" fill="#3a0602"/><circle cx="523.60" cy="218.00" r="2.40" fill="#6a0e04"/><circle cx="522.28" cy="218.80" r="0.64" fill="#f0300c"/><circle cx="524.36" cy="216.70" r="0.46" fill="#c81806"/><circle cx="523.13" cy="220.04" r="0.73" fill="#ff6a1a"/><circle cx="522.63" cy="217.32" r="0.69" fill="#f0300c"/><circle cx="524.30" cy="219.28" r="0.59" fill="#ff3a10"/><circle cx="521.60" cy="218.43" r="0.76" fill="#f0300c"/><circle cx="524.22" cy="216.58" r="0.71" fill="#a01206"/><circle cx="524.84" cy="219.04" r="0.66" fill="#ff3a10"/><circle cx="525.41" cy="217.36" r="0.74" fill="#e82208"/><circle cx="524.55" cy="219.90" r="0.74" fill="#ff3a10"/><circle cx="522.14" cy="218.36" r="0.63" fill="#ff3a10"/><circle cx="522.09" cy="219.54" r="0.78" fill="#c81806"/><circle cx="523.02" cy="217.87" r="0.69" fill="#f0300c"/><circle cx="522.55" cy="219.26" r="0.78" fill="#a01206"/><circle cx="523.53" cy="219.67" r="0.78" fill="#c81806"/><circle cx="525.37" cy="218.18" r="0.64" fill="#ff6a1a"/><circle cx="525.18" cy="219.07" r="0.57" fill="#e82208"/><circle cx="525.40" cy="217.52" r="0.75" fill="#ff6a1a"/><circle cx="524.12" cy="216.18" r="0.63" fill="#3a0602"/><circle cx="522.61" cy="217.80" r="0.51" fill="#3a0602"/><circle cx="525.23" cy="217.81" r="0.55" fill="#3a0602"/><circle cx="534.20" cy="218.00" r="2.40" fill="#6a0e04"/><circle cx="534.96" cy="216.85" r="0.75" fill="#e82208"/><circle cx="536.04" cy="219.09" r="0.75" fill="#ff3a10"/><circle cx="535.09" cy="219.17" r="0.59" fill="#a01206"/><circle cx="533.93" cy="218.91" r="0.74" fill="#a01206"/><circle cx="534.94" cy="218.80" r="0.75" fill="#f0300c"/><circle cx="534.27" cy="218.14" r="0.66" fill="#c81806"/><circle cx="533.55" cy="219.38" r="0.49" fill="#ff6a1a"/><circle cx="534.35" cy="218.57" r="0.49" fill="#e82208"/><circle cx="535.57" cy="218.98" r="0.80" fill="#e82208"/><circle cx="534.66" cy="216.43" r="0.61" fill="#a01206"/><circle cx="535.88" cy="219.25" r="0.49" fill="#f0300c"/><circle cx="534.32" cy="219.92" r="0.48" fill="#f0300c"/><circle cx="534.30" cy="216.11" r="0.66" fill="#ff6a1a"/><circle cx="532.80" cy="218.03" r="0.66" fill="#a01206"/><circle cx="534.91" cy="219.11" r="0.74" fill="#e82208"/><circle cx="534.22" cy="219.79" r="0.59" fill="#ff6a1a"/><circle cx="532.59" cy="218.68" r="0.52" fill="#c81806"/><circle cx="534.92" cy="216.78" r="0.51" fill="#ff6a1a"/><circle cx="532.94" cy="216.65" r="0.55" fill="#3a0602"/><circle cx="534.71" cy="218.00" r="0.36" fill="#3a0602"/><circle cx="533.91" cy="218.13" r="0.51" fill="#3a0602"/><rect x="539.30" y="224.00" width="4.6" height="0.75" fill="#b8b8b8"/><text x="523.35" y="240.40" font-size="11" font-family="'Liberation Serif', 'DejaVu Serif', serif" fill="#111" text-anchor="middle">(<tspan font-weight="bold">l</tspan>)</text></svg></body></html>
